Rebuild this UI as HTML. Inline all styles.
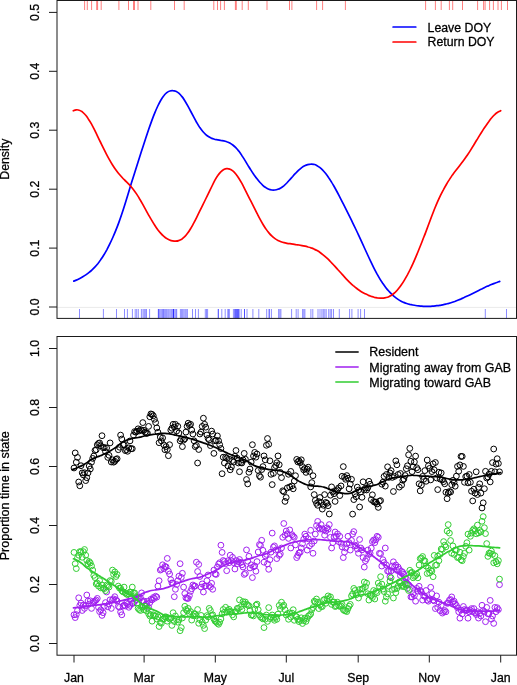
<!DOCTYPE html>
<html lang="en"><head><meta charset="utf-8"><title>Migration timing</title>
<style>text{stroke:#000;stroke-width:0.28px}html,body{margin:0;padding:0;background:#fff}svg{display:block}</style></head>
<body>
<svg width="517" height="685" viewBox="0 0 517 685" font-family="Liberation Sans, Arial, Helvetica, sans-serif" font-size="12.3" fill="#000">
<rect width="517" height="685" fill="#fff"/>
<g id="top">
<line x1="57.0" y1="307.4" x2="516.5" y2="307.4" stroke="#bebebe" stroke-width="0.35"/>
<g stroke="#ff0000" stroke-opacity="0.5" stroke-width="1">
<path d="M84.6 0.5V10M87.3 0.5V10M91.6 0.5V10M96.7 0.5V10M97.6 0.5V10M101.2 0.5V10M118.9 0.5V10M128.5 0.5V10M133.5 0.5V10M134.5 0.5V10M138 0.5V10M150.8 0.5V10M174.5 0.5V10M184.2 0.5V10M213.8 0.5V10M217.5 0.5V10M220.6 0.5V10M224.4 0.5V10M235.4 0.5V10M236.3 0.5V10M242.2 0.5V10M248.3 0.5V10M267 0.5V10M289.5 0.5V10M291.9 0.5V10M316.6 0.5V10M322.6 0.5V10M345.4 0.5V10M425.6 0.5V10M435.4 0.5V10M441.2 0.5V10M449.4 0.5V10M452.7 0.5V10M462.5 0.5V10M477.6 0.5V10M483.6 0.5V10M485.1 0.5V10M489.6 0.5V10M493.4 0.5V10M498 0.5V10M501.4 0.5V10M507.5 0.5V10"/>
</g>
<g stroke="#0000ff" stroke-opacity="0.45" stroke-width="1">
<path d="M79.5 309V318.5M103.4 309V318.5M116.5 309V318.5M124.5 309V318.5M127.4 309V318.5M132.4 309V318.5M135.2 309V318.5M136.7 309V318.5M138.3 309V318.5M141.4 309V318.5M143 309V318.5M144.2 309V318.5M145.3 309V318.5M146.5 309V318.5M149.6 309V318.5M158.4 309V318.5M158.4 309V318.5M159.6 309V318.5M160.8 309V318.5M161.9 309V318.5M163.1 309V318.5M163.1 309V318.5M164.3 309V318.5M165.4 309V318.5M166.6 309V318.5M167.8 309V318.5M168.9 309V318.5M170.1 309V318.5M171.3 309V318.5M172.4 309V318.5M173.5 309V318.5M173.5 309V318.5M173.6 309V318.5M174.8 309V318.5M175.9 309V318.5M176.7 309V318.5M180.4 309V318.5M181.6 309V318.5M182.7 309V318.5M183.9 309V318.5M185.1 309V318.5M186.2 309V318.5M187.4 309V318.5M192.5 309V318.5M195.5 309V318.5M198.4 309V318.5M205.3 309V318.5M206.5 309V318.5M207.6 309V318.5M218.3 309V318.5M218.3 309V318.5M221.8 309V318.5M225.2 309V318.5M228.1 309V318.5M228.1 309V318.5M229.4 309V318.5M233.4 309V318.5M234.6 309V318.5M235.2 309V318.5M235.7 309V318.5M236.4 309V318.5M236.9 309V318.5M237.5 309V318.5M238.1 309V318.5M238.6 309V318.5M239.2 309V318.5M241.2 309V318.5M244.5 309V318.5M244.5 309V318.5M247 309V318.5M252.9 309V318.5M258.8 309V318.5M266.7 309V318.5M269.2 309V318.5M269.2 309V318.5M271.4 309V318.5M278.6 309V318.5M279.8 309V318.5M280.9 309V318.5M291.6 309V318.5M296.2 309V318.5M298.1 309V318.5M302.6 309V318.5M303.8 309V318.5M304.9 309V318.5M310.9 309V318.5M312.8 309V318.5M318 309V318.5M320 309V318.5M321.9 309V318.5M323.3 309V318.5M324.8 309V318.5M326.2 309V318.5M328.7 309V318.5M330.2 309V318.5M331.6 309V318.5M333.5 309V318.5M339.3 309V318.5M349.6 309V318.5M351.9 309V318.5M358.1 309V318.5M360.6 309V318.5M364.5 309V318.5M485.3 309V318.5M506.5 309V318.5"/>
</g>
<path d="M73.8 281.1C74.3 280.9 75.8 280.3 76.8 279.9C77.8 279.4 78.8 278.9 79.8 278.4C80.8 277.9 81.8 277.4 82.8 276.8C83.8 276.2 84.8 275.6 85.8 274.9C86.8 274.2 87.8 273.5 88.8 272.7C89.8 271.9 90.8 271.1 91.8 270.1C92.8 269.2 93.8 268.2 94.8 267.1C95.8 266.1 96.8 264.9 97.8 263.7C98.8 262.4 99.8 261.1 100.8 259.6C101.8 258.2 102.8 256.7 103.8 255C104.8 253.4 105.8 251.6 106.8 249.8C107.8 247.9 108.8 246 109.8 243.9C110.8 241.9 111.8 239.7 112.8 237.5C113.8 235.2 114.8 232.9 115.8 230.4C116.8 227.9 117.8 225.4 118.8 222.6C119.8 219.9 120.8 217.1 121.8 214.1C122.8 211.1 123.8 208 124.8 204.8C125.8 201.6 126.8 198.2 127.8 194.9C128.8 191.6 129.8 188.3 130.8 185C131.8 181.8 132.8 178.5 133.8 175.4C134.8 172.2 135.8 169 136.8 165.9C137.8 162.8 138.8 159.7 139.8 156.5C140.8 153.4 141.8 150.3 142.8 147.2C143.8 144.1 144.8 141 145.8 138C146.8 135 147.8 132 148.8 129.1C149.8 126.2 150.8 123.3 151.8 120.6C152.8 117.9 153.8 115.3 154.8 112.9C155.8 110.4 156.8 108.1 157.8 106C158.8 103.9 159.8 101.9 160.8 100.2C161.8 98.5 162.8 97 163.8 95.8C164.8 94.5 165.8 93.5 166.8 92.7C167.8 91.9 168.8 91.3 169.8 91C170.8 90.6 171.8 90.5 172.8 90.6C173.8 90.6 174.8 90.9 175.8 91.3C176.8 91.8 177.8 92.4 178.8 93.2C179.8 94.1 180.8 95.1 181.8 96.4C182.8 97.6 183.8 99.1 184.8 100.7C185.8 102.3 186.8 104.1 187.8 105.9C188.8 107.7 189.8 109.6 190.8 111.5C191.8 113.4 192.8 115.3 193.8 117.2C194.8 119.1 195.8 121 196.8 122.7C197.8 124.5 198.8 126.1 199.8 127.6C200.8 129 201.8 130.3 202.8 131.5C203.8 132.7 204.8 133.7 205.8 134.6C206.8 135.5 207.8 136.2 208.8 136.8C209.8 137.5 210.8 137.9 211.8 138.4C212.8 138.8 213.8 139 214.8 139.3C215.8 139.5 216.8 139.7 217.8 139.8C218.8 140 219.8 140.1 220.8 140.3C221.8 140.4 222.8 140.6 223.8 140.8C224.8 141 225.8 141.3 226.8 141.7C227.8 142 228.8 142.5 229.8 143C230.8 143.6 231.8 144.2 232.8 145C233.8 145.8 234.8 146.7 235.8 147.7C236.8 148.7 237.8 149.9 238.8 151.1C239.8 152.4 240.8 153.9 241.8 155.4C242.8 156.8 243.8 158.5 244.8 160.1C245.8 161.7 246.8 163.5 247.8 165.1C248.8 166.7 249.8 168.4 250.8 169.9C251.8 171.5 252.8 173 253.8 174.5C254.8 175.9 255.8 177.3 256.8 178.6C257.8 179.9 258.8 181.2 259.8 182.3C260.8 183.4 261.8 184.4 262.8 185.3C263.8 186.2 264.8 187 265.8 187.6C266.8 188.3 267.8 188.8 268.8 189.2C269.8 189.6 270.8 189.8 271.8 190C272.8 190.1 273.8 190.1 274.8 190C275.8 189.9 276.8 189.7 277.8 189.3C278.8 189 279.8 188.5 280.8 187.9C281.8 187.3 282.8 186.6 283.8 185.8C284.8 184.9 285.8 184 286.8 183C287.7 182 288.7 180.9 289.7 179.8C290.7 178.7 291.7 177.6 292.7 176.5C293.7 175.3 294.7 174.2 295.7 173.2C296.7 172.1 297.7 171.1 298.7 170.1C299.7 169.2 300.7 168.4 301.7 167.6C302.7 166.9 303.7 166.3 304.7 165.8C305.7 165.3 306.7 164.9 307.7 164.6C308.7 164.3 309.7 164.1 310.7 164.1C311.7 164 312.7 164.1 313.7 164.3C314.7 164.6 315.7 164.9 316.7 165.4C317.7 166 318.7 166.6 319.7 167.4C320.7 168.2 321.7 169.1 322.7 170.1C323.7 171.1 324.7 172.3 325.7 173.5C326.7 174.8 327.7 176.2 328.7 177.7C329.7 179.1 330.7 180.7 331.7 182.4C332.7 184 333.7 185.8 334.7 187.5C335.7 189.3 336.7 191.2 337.7 193C338.7 194.9 339.7 196.9 340.7 198.8C341.7 200.7 342.7 202.7 343.7 204.7C344.7 206.7 345.7 208.7 346.7 210.7C347.7 212.7 348.7 214.7 349.7 216.7C350.7 218.7 351.7 220.7 352.7 222.8C353.7 224.8 354.7 226.9 355.7 229C356.7 231.1 357.7 233.2 358.7 235.4C359.7 237.5 360.7 239.7 361.7 241.9C362.7 244.1 363.7 246.3 364.7 248.5C365.7 250.6 366.7 252.8 367.7 255C368.7 257.2 369.7 259.3 370.7 261.4C371.7 263.5 372.7 265.6 373.7 267.6C374.7 269.6 375.7 271.5 376.7 273.4C377.7 275.2 378.7 276.9 379.7 278.6C380.7 280.3 381.7 281.8 382.7 283.3C383.7 284.7 384.7 286.1 385.7 287.4C386.7 288.7 387.7 289.9 388.7 291C389.7 292.2 390.7 293.2 391.7 294.2C392.7 295.2 393.7 296.1 394.7 296.9C395.7 297.7 396.7 298.4 397.7 299.1C398.7 299.8 399.7 300.4 400.7 300.9C401.7 301.5 402.7 301.9 403.7 302.4C404.7 302.8 405.7 303.2 406.7 303.5C407.7 303.8 408.7 304.1 409.7 304.4C410.7 304.6 411.7 304.8 412.7 305C413.7 305.2 414.7 305.4 415.7 305.5C416.7 305.7 417.7 305.8 418.7 305.9C419.7 306 420.7 306.1 421.7 306.1C422.7 306.2 423.7 306.3 424.7 306.3C425.7 306.3 426.7 306.3 427.7 306.3C428.7 306.3 429.7 306.3 430.7 306.3C431.7 306.2 432.7 306.2 433.7 306.1C434.7 306 435.7 305.9 436.7 305.7C437.7 305.6 438.7 305.5 439.7 305.3C440.7 305.1 441.7 305 442.7 304.8C443.7 304.6 444.7 304.4 445.7 304.1C446.7 303.9 447.7 303.6 448.7 303.4C449.7 303.1 450.7 302.8 451.7 302.5C452.7 302.2 453.7 301.8 454.7 301.5C455.7 301.1 456.7 300.7 457.7 300.3C458.7 299.9 459.7 299.5 460.7 299.1C461.7 298.6 462.7 298.2 463.7 297.7C464.7 297.3 465.7 296.8 466.7 296.3C467.7 295.9 468.7 295.4 469.7 294.9C470.7 294.4 471.7 293.9 472.7 293.4C473.7 292.9 474.7 292.4 475.7 291.9C476.7 291.4 477.7 290.9 478.7 290.4C479.7 289.9 480.7 289.4 481.7 289C482.7 288.5 483.7 288 484.7 287.5C485.7 287.1 486.7 286.6 487.7 286.1C488.7 285.7 489.7 285.2 490.7 284.8C491.7 284.4 492.7 284 493.7 283.6C494.7 283.2 495.7 282.8 496.7 282.5C497.7 282.1 499.2 281.6 499.7 281.4" fill="none" stroke="#0000ff" stroke-width="1.7" stroke-linecap="round" stroke-linejoin="round"/>
<path d="M73.3 110.8C73.8 110.6 75.3 110 76.3 109.8C77.3 109.7 78.3 109.8 79.3 110.2C80.3 110.5 81.3 111.1 82.3 111.8C83.3 112.6 84.3 113.6 85.3 114.8C86.3 115.9 87.3 117.3 88.3 118.9C89.4 120.4 90.4 122.1 91.4 123.9C92.4 125.7 93.4 127.7 94.4 129.7C95.4 131.7 96.4 133.7 97.4 135.8C98.4 137.9 99.4 140 100.4 142C101.4 144.1 102.4 146.1 103.4 148.2C104.4 150.2 105.4 152.2 106.4 154.1C107.4 156 108.4 157.9 109.4 159.7C110.4 161.5 111.4 163.2 112.4 164.8C113.4 166.4 114.4 167.9 115.4 169.3C116.4 170.7 117.4 172 118.4 173.2C119.5 174.5 120.5 175.6 121.5 176.7C122.5 177.8 123.5 178.9 124.5 179.9C125.5 181 126.5 181.9 127.5 182.9C128.5 183.9 129.5 184.9 130.5 186C131.5 187.2 132.5 188.4 133.5 189.7C134.5 191 135.5 192.4 136.5 193.9C137.5 195.4 138.5 197 139.5 198.7C140.5 200.3 141.5 202.1 142.5 203.9C143.5 205.7 144.5 207.5 145.5 209.3C146.5 211.2 147.5 213 148.5 214.8C149.5 216.6 150.6 218.4 151.6 220.1C152.6 221.8 153.6 223.5 154.6 225C155.6 226.6 156.6 228 157.6 229.4C158.6 230.7 159.6 232 160.6 233.1C161.6 234.2 162.6 235.3 163.6 236.1C164.6 237 165.6 237.8 166.6 238.4C167.6 239.1 168.6 239.6 169.6 240C170.6 240.5 171.6 240.8 172.6 240.9C173.6 241.1 174.6 241.2 175.6 241.2C176.6 241.1 177.6 241 178.6 240.6C179.6 240.3 180.7 239.8 181.7 239.2C182.7 238.5 183.7 237.7 184.7 236.7C185.7 235.7 186.7 234.5 187.7 233.1C188.7 231.8 189.7 230.2 190.7 228.5C191.7 226.9 192.7 225 193.7 223.2C194.7 221.3 195.7 219.3 196.7 217.3C197.7 215.3 198.7 213.3 199.7 211.2C200.7 209.2 201.7 207.2 202.7 205.1C203.7 203.1 204.7 201.1 205.7 199C206.7 197 207.7 195 208.7 192.9C209.7 190.8 210.8 188.6 211.8 186.5C212.8 184.4 213.8 182.3 214.8 180.4C215.8 178.6 216.8 176.9 217.8 175.5C218.8 174 219.8 172.8 220.8 171.8C221.8 170.9 222.8 170.1 223.8 169.5C224.8 169 225.8 168.7 226.8 168.6C227.8 168.5 228.8 168.7 229.8 169.1C230.8 169.4 231.8 170.1 232.8 170.9C233.8 171.7 234.8 172.8 235.8 174C236.8 175.2 237.8 176.6 238.8 178.2C239.8 179.8 240.8 181.5 241.9 183.4C242.9 185.3 243.9 187.3 244.9 189.3C245.9 191.3 246.9 193.3 247.9 195.3C248.9 197.3 249.9 199.3 250.9 201.2C251.9 203.2 252.9 205.2 253.9 207.2C254.9 209.2 255.9 211.2 256.9 213.2C257.9 215.1 258.9 217.1 259.9 218.9C260.9 220.8 261.9 222.6 262.9 224.2C263.9 225.9 264.9 227.5 265.9 228.9C266.9 230.4 267.9 231.7 268.9 232.9C269.9 234.1 270.9 235.2 272 236.1C273 237.1 274 237.9 275 238.6C276 239.3 277 239.9 278 240.4C279 240.9 280 241.3 281 241.7C282 242.1 283 242.4 284 242.6C285 242.9 286 243.1 287 243.3C288 243.5 289 243.6 290 243.7C291 243.9 292 244 293 244.1C294 244.3 295 244.4 296 244.6C297 244.7 298 244.8 299 245C300 245.2 301 245.4 302 245.6C303.1 245.8 304.1 246 305.1 246.2C306.1 246.4 307.1 246.7 308.1 247C309.1 247.2 310.1 247.5 311.1 247.9C312.1 248.2 313.1 248.6 314.1 249.1C315.1 249.5 316.1 250 317.1 250.6C318.1 251.2 319.1 251.8 320.1 252.5C321.1 253.2 322.1 254 323.1 254.8C324.1 255.6 325.1 256.5 326.1 257.4C327.1 258.3 328.1 259.2 329.1 260.2C330.1 261.2 331.1 262.3 332.1 263.3C333.2 264.4 334.2 265.5 335.2 266.6C336.2 267.7 337.2 268.8 338.2 270C339.2 271.1 340.2 272.2 341.2 273.3C342.2 274.4 343.2 275.6 344.2 276.6C345.2 277.7 346.2 278.8 347.2 279.8C348.2 280.8 349.2 281.9 350.2 282.8C351.2 283.8 352.2 284.7 353.2 285.6C354.2 286.4 355.2 287.3 356.2 288C357.2 288.8 358.2 289.5 359.2 290.2C360.2 290.9 361.2 291.6 362.2 292.2C363.2 292.8 364.3 293.3 365.3 293.8C366.3 294.3 367.3 294.8 368.3 295.2C369.3 295.7 370.3 296 371.3 296.4C372.3 296.7 373.3 297 374.3 297.3C375.3 297.5 376.3 297.7 377.3 297.9C378.3 298 379.3 298.1 380.3 298.2C381.3 298.2 382.3 298.2 383.3 298.1C384.3 298 385.3 297.8 386.3 297.5C387.3 297.3 388.3 296.9 389.3 296.4C390.3 296 391.3 295.4 392.3 294.7C393.3 294 394.4 293.1 395.4 292.2C396.4 291.2 397.4 290.1 398.4 288.8C399.4 287.6 400.4 286.3 401.4 284.8C402.4 283.4 403.4 281.8 404.4 280.1C405.4 278.5 406.4 276.7 407.4 274.9C408.4 273 409.4 271.1 410.4 269C411.4 267 412.4 264.8 413.4 262.6C414.4 260.3 415.4 258 416.4 255.6C417.4 253.2 418.4 250.7 419.4 248.3C420.4 245.8 421.4 243.3 422.4 240.7C423.4 238.1 424.5 235.5 425.5 232.9C426.5 230.2 427.5 227.5 428.5 224.8C429.5 222.1 430.5 219.4 431.5 216.7C432.5 214.1 433.5 211.5 434.5 209C435.5 206.6 436.5 204.2 437.5 201.9C438.5 199.7 439.5 197.5 440.5 195.4C441.5 193.4 442.5 191.4 443.5 189.6C444.5 187.7 445.5 185.9 446.5 184.2C447.5 182.5 448.5 180.9 449.5 179.4C450.5 177.8 451.5 176.4 452.5 174.9C453.5 173.5 454.5 172.2 455.6 170.8C456.6 169.5 457.6 168.2 458.6 166.9C459.6 165.6 460.6 164.3 461.6 163C462.6 161.7 463.6 160.4 464.6 159C465.6 157.6 466.6 156.2 467.6 154.7C468.6 153.2 469.6 151.7 470.6 150.1C471.6 148.5 472.6 146.9 473.6 145.3C474.6 143.6 475.6 142 476.6 140.3C477.6 138.7 478.6 137 479.6 135.4C480.6 133.8 481.6 132.2 482.6 130.6C483.6 129 484.6 127.5 485.7 126C486.7 124.5 487.7 123 488.7 121.7C489.7 120.3 490.7 118.9 491.7 117.8C492.7 116.6 493.7 115.5 494.7 114.6C495.7 113.6 496.7 112.8 497.7 112.2C498.7 111.6 500.2 111 500.7 110.7" fill="none" stroke="#ff0000" stroke-width="1.7" stroke-linecap="round" stroke-linejoin="round"/>
<rect x="57.0" y="0.5" width="459.5" height="317.9" fill="none" stroke="#1a1a1a" stroke-width="1"/>
<path d="M49 307H57.0M49 248.1H57.0M49 189.2H57.0M49 130.2H57.0M49 71.3H57.0M49 12.4H57.0" stroke="#1a1a1a" stroke-width="1" fill="none"/>
<text transform="translate(39.2 307) rotate(-90)" text-anchor="middle">0.0</text>
<text transform="translate(39.2 248.1) rotate(-90)" text-anchor="middle">0.1</text>
<text transform="translate(39.2 189.2) rotate(-90)" text-anchor="middle">0.2</text>
<text transform="translate(39.2 130.2) rotate(-90)" text-anchor="middle">0.3</text>
<text transform="translate(39.2 71.3) rotate(-90)" text-anchor="middle">0.4</text>
<text transform="translate(39.2 12.4) rotate(-90)" text-anchor="middle">0.5</text>
<text transform="translate(8.9 159.2) rotate(-90)" text-anchor="middle">Density</text>
<path d="M393.1 27H415.8" stroke="#0000ff" stroke-width="1.7" stroke-linecap="round"/>
<path d="M393.1 42H415.8" stroke="#ff0000" stroke-width="1.7" stroke-linecap="round"/>
<text x="427.6" y="31.6">Leave DOY</text>
<text x="427.6" y="46.4">Return DOY</text>
</g>
<g id="bottom">
<g fill="none" stroke="#000000" stroke-width="1.0"><circle cx="74" cy="468" r="2.9"/><circle cx="75.2" cy="452.9" r="2.9"/><circle cx="76.3" cy="462.2" r="2.9"/><circle cx="77.5" cy="457.4" r="2.9"/><circle cx="78.7" cy="482" r="2.9"/><circle cx="79.8" cy="485.8" r="2.9"/><circle cx="81" cy="465.7" r="2.9"/><circle cx="82.2" cy="472.9" r="2.9"/><circle cx="83.3" cy="474.9" r="2.9"/><circle cx="84.5" cy="472.7" r="2.9"/><circle cx="85.7" cy="480.6" r="2.9"/><circle cx="86.8" cy="477.7" r="2.9"/><circle cx="88" cy="472.9" r="2.9"/><circle cx="89.2" cy="466.1" r="2.9"/><circle cx="90.3" cy="469" r="2.9"/><circle cx="91.5" cy="462.2" r="2.9"/><circle cx="92.7" cy="458.4" r="2.9"/><circle cx="93.8" cy="456" r="2.9"/><circle cx="95" cy="450.4" r="2.9"/><circle cx="96.2" cy="449.7" r="2.9"/><circle cx="97.3" cy="444.8" r="2.9"/><circle cx="98.5" cy="443.4" r="2.9"/><circle cx="99.6" cy="442.9" r="2.9"/><circle cx="100.8" cy="445.8" r="2.9"/><circle cx="102" cy="435.7" r="2.9"/><circle cx="103.1" cy="447.7" r="2.9"/><circle cx="104.3" cy="447.4" r="2.9"/><circle cx="105.5" cy="451.6" r="2.9"/><circle cx="106.6" cy="448" r="2.9"/><circle cx="107.8" cy="457.4" r="2.9"/><circle cx="109" cy="455.3" r="2.9"/><circle cx="110.1" cy="442.9" r="2.9"/><circle cx="111.3" cy="462" r="2.9"/><circle cx="112.5" cy="459.8" r="2.9"/><circle cx="113.6" cy="462.2" r="2.9"/><circle cx="114.8" cy="461.3" r="2.9"/><circle cx="116" cy="459.4" r="2.9"/><circle cx="117.1" cy="458.7" r="2.9"/><circle cx="118.3" cy="449.7" r="2.9"/><circle cx="119.5" cy="447.2" r="2.9"/><circle cx="120.6" cy="435.1" r="2.9"/><circle cx="121.8" cy="439" r="2.9"/><circle cx="123" cy="444.8" r="2.9"/><circle cx="124.1" cy="444.5" r="2.9"/><circle cx="125.3" cy="450.6" r="2.9"/><circle cx="126.5" cy="449.7" r="2.9"/><circle cx="127.6" cy="451.3" r="2.9"/><circle cx="128.8" cy="447.9" r="2.9"/><circle cx="130" cy="440.9" r="2.9"/><circle cx="131.1" cy="448.7" r="2.9"/><circle cx="132.3" cy="448.7" r="2.9"/><circle cx="133.5" cy="435.1" r="2.9"/><circle cx="134.6" cy="431.6" r="2.9"/><circle cx="135.8" cy="432.2" r="2.9"/><circle cx="137" cy="431.3" r="2.9"/><circle cx="138.1" cy="428.8" r="2.9"/><circle cx="139.3" cy="430.9" r="2.9"/><circle cx="140.5" cy="429.5" r="2.9"/><circle cx="141.6" cy="430.3" r="2.9"/><circle cx="142.8" cy="422.6" r="2.9"/><circle cx="143.9" cy="430.3" r="2.9"/><circle cx="145.1" cy="432.2" r="2.9"/><circle cx="146.3" cy="433.2" r="2.9"/><circle cx="147.4" cy="433.2" r="2.9"/><circle cx="148.6" cy="426.4" r="2.9"/><circle cx="149.8" cy="416.8" r="2.9"/><circle cx="150.9" cy="413.9" r="2.9"/><circle cx="152.1" cy="414.4" r="2.9"/><circle cx="153.3" cy="415.8" r="2.9"/><circle cx="154.4" cy="419.3" r="2.9"/><circle cx="155.6" cy="422.6" r="2.9"/><circle cx="156.8" cy="427.9" r="2.9"/><circle cx="157.9" cy="432.2" r="2.9"/><circle cx="159.1" cy="442.7" r="2.9"/><circle cx="160.3" cy="437.1" r="2.9"/><circle cx="161.4" cy="440.9" r="2.9"/><circle cx="162.6" cy="437.9" r="2.9"/><circle cx="163.8" cy="444.8" r="2.9"/><circle cx="164.9" cy="449.7" r="2.9"/><circle cx="166.1" cy="446.6" r="2.9"/><circle cx="167.3" cy="449.5" r="2.9"/><circle cx="168.4" cy="455.7" r="2.9"/><circle cx="169.6" cy="444.7" r="2.9"/><circle cx="170.8" cy="430.1" r="2.9"/><circle cx="171.9" cy="428.2" r="2.9"/><circle cx="173.1" cy="424.3" r="2.9"/><circle cx="174.3" cy="427.1" r="2.9"/><circle cx="175.4" cy="424.3" r="2.9"/><circle cx="176.6" cy="431.1" r="2.9"/><circle cx="177.8" cy="426.3" r="2.9"/><circle cx="178.9" cy="433" r="2.9"/><circle cx="180.1" cy="440.8" r="2.9"/><circle cx="181.3" cy="439.1" r="2.9"/><circle cx="182.4" cy="446.6" r="2.9"/><circle cx="183.6" cy="440.1" r="2.9"/><circle cx="184.8" cy="438.8" r="2.9"/><circle cx="185.9" cy="432.1" r="2.9"/><circle cx="187.1" cy="426.3" r="2.9"/><circle cx="188.2" cy="423.2" r="2.9"/><circle cx="189.4" cy="425.3" r="2.9"/><circle cx="190.6" cy="424.3" r="2.9"/><circle cx="191.7" cy="430.1" r="2.9"/><circle cx="192.9" cy="434" r="2.9"/><circle cx="194.1" cy="440.8" r="2.9"/><circle cx="195.2" cy="446.6" r="2.9"/><circle cx="196.4" cy="445.4" r="2.9"/><circle cx="197.6" cy="463" r="2.9"/><circle cx="198.7" cy="449.5" r="2.9"/><circle cx="199.9" cy="434" r="2.9"/><circle cx="201.1" cy="432.1" r="2.9"/><circle cx="202.2" cy="426.4" r="2.9"/><circle cx="203.4" cy="418.2" r="2.9"/><circle cx="204.6" cy="424.3" r="2.9"/><circle cx="205.7" cy="427.2" r="2.9"/><circle cx="206.9" cy="435" r="2.9"/><circle cx="208.1" cy="438.5" r="2.9"/><circle cx="209.2" cy="439.8" r="2.9"/><circle cx="210.4" cy="445.6" r="2.9"/><circle cx="211.6" cy="431.1" r="2.9"/><circle cx="212.7" cy="434" r="2.9"/><circle cx="213.9" cy="453.4" r="2.9"/><circle cx="215.1" cy="440.8" r="2.9"/><circle cx="216.2" cy="440.3" r="2.9"/><circle cx="217.4" cy="435.9" r="2.9"/><circle cx="218.6" cy="440.8" r="2.9"/><circle cx="219.7" cy="444.7" r="2.9"/><circle cx="220.9" cy="448.5" r="2.9"/><circle cx="222.1" cy="473.7" r="2.9"/><circle cx="223.2" cy="457.2" r="2.9"/><circle cx="224.4" cy="463" r="2.9"/><circle cx="225.6" cy="457.2" r="2.9"/><circle cx="226.7" cy="458.2" r="2.9"/><circle cx="227.9" cy="465.9" r="2.9"/><circle cx="229.1" cy="459.2" r="2.9"/><circle cx="230.2" cy="469.8" r="2.9"/><circle cx="231.4" cy="466.9" r="2.9"/><circle cx="232.5" cy="460.5" r="2.9"/><circle cx="233.7" cy="462.1" r="2.9"/><circle cx="234.9" cy="456.3" r="2.9"/><circle cx="236" cy="450.5" r="2.9"/><circle cx="237.2" cy="458.2" r="2.9"/><circle cx="238.4" cy="463" r="2.9"/><circle cx="239.5" cy="471.7" r="2.9"/><circle cx="240.7" cy="462.7" r="2.9"/><circle cx="241.9" cy="463" r="2.9"/><circle cx="243" cy="459.9" r="2.9"/><circle cx="244.2" cy="453.4" r="2.9"/><circle cx="245.4" cy="459.2" r="2.9"/><circle cx="246.5" cy="479.5" r="2.9"/><circle cx="247.7" cy="483.9" r="2.9"/><circle cx="248.9" cy="472.3" r="2.9"/><circle cx="250" cy="469" r="2.9"/><circle cx="251.2" cy="462.1" r="2.9"/><circle cx="252.4" cy="444.7" r="2.9"/><circle cx="253.5" cy="456" r="2.9"/><circle cx="254.7" cy="452.4" r="2.9"/><circle cx="255.9" cy="457.2" r="2.9"/><circle cx="257" cy="454" r="2.9"/><circle cx="258.2" cy="470.5" r="2.9"/><circle cx="259.4" cy="475.7" r="2.9"/><circle cx="260.5" cy="477.2" r="2.9"/><circle cx="261.7" cy="469.6" r="2.9"/><circle cx="262.9" cy="466.6" r="2.9"/><circle cx="264" cy="455.9" r="2.9"/><circle cx="265.2" cy="459.8" r="2.9"/><circle cx="266.4" cy="445.3" r="2.9"/><circle cx="267.5" cy="438.5" r="2.9"/><circle cx="268.7" cy="444.3" r="2.9"/><circle cx="269.9" cy="460.8" r="2.9"/><circle cx="271" cy="474.3" r="2.9"/><circle cx="272.2" cy="484.6" r="2.9"/><circle cx="273.4" cy="473.4" r="2.9"/><circle cx="274.5" cy="467.6" r="2.9"/><circle cx="275.7" cy="465.6" r="2.9"/><circle cx="276.8" cy="462.7" r="2.9"/><circle cx="278" cy="455.9" r="2.9"/><circle cx="279.2" cy="464.7" r="2.9"/><circle cx="280.3" cy="472.4" r="2.9"/><circle cx="281.5" cy="477.6" r="2.9"/><circle cx="282.7" cy="490.8" r="2.9"/><circle cx="283.8" cy="491.7" r="2.9"/><circle cx="285" cy="501.4" r="2.9"/><circle cx="286.2" cy="497.5" r="2.9"/><circle cx="287.3" cy="487.9" r="2.9"/><circle cx="288.5" cy="474.3" r="2.9"/><circle cx="289.7" cy="486.9" r="2.9"/><circle cx="290.8" cy="471.4" r="2.9"/><circle cx="292" cy="485.9" r="2.9"/><circle cx="293.2" cy="488.8" r="2.9"/><circle cx="294.3" cy="481.1" r="2.9"/><circle cx="295.5" cy="475.7" r="2.9"/><circle cx="296.7" cy="459.4" r="2.9"/><circle cx="297.8" cy="461.9" r="2.9"/><circle cx="299" cy="460.8" r="2.9"/><circle cx="300.2" cy="462.7" r="2.9"/><circle cx="301.3" cy="459.8" r="2.9"/><circle cx="302.5" cy="466.6" r="2.9"/><circle cx="303.7" cy="469.8" r="2.9"/><circle cx="304.8" cy="468.5" r="2.9"/><circle cx="306" cy="472.4" r="2.9"/><circle cx="307.2" cy="469.1" r="2.9"/><circle cx="308.3" cy="467.2" r="2.9"/><circle cx="309.5" cy="471.4" r="2.9"/><circle cx="310.7" cy="486.9" r="2.9"/><circle cx="311.8" cy="482.6" r="2.9"/><circle cx="313" cy="475.7" r="2.9"/><circle cx="314.2" cy="494.6" r="2.9"/><circle cx="315.3" cy="500.4" r="2.9"/><circle cx="316.5" cy="503.3" r="2.9"/><circle cx="317.7" cy="505.3" r="2.9"/><circle cx="318.8" cy="501.6" r="2.9"/><circle cx="320" cy="497.5" r="2.9"/><circle cx="321.1" cy="502.4" r="2.9"/><circle cx="322.3" cy="509.1" r="2.9"/><circle cx="323.5" cy="505.3" r="2.9"/><circle cx="324.6" cy="494.6" r="2.9"/><circle cx="325.8" cy="502.4" r="2.9"/><circle cx="327" cy="503.3" r="2.9"/><circle cx="328.1" cy="505.7" r="2.9"/><circle cx="329.3" cy="514" r="2.9"/><circle cx="330.5" cy="495.2" r="2.9"/><circle cx="331.6" cy="486.9" r="2.9"/><circle cx="332.8" cy="491.7" r="2.9"/><circle cx="334" cy="493.7" r="2.9"/><circle cx="335.1" cy="501.4" r="2.9"/><circle cx="336.3" cy="491.2" r="2.9"/><circle cx="337.5" cy="489.8" r="2.9"/><circle cx="338.6" cy="487.9" r="2.9"/><circle cx="339.8" cy="495.6" r="2.9"/><circle cx="341" cy="485.9" r="2.9"/><circle cx="342.1" cy="476.3" r="2.9"/><circle cx="343.3" cy="466.6" r="2.9"/><circle cx="344.5" cy="477.2" r="2.9"/><circle cx="345.6" cy="479.3" r="2.9"/><circle cx="346.8" cy="475.6" r="2.9"/><circle cx="348" cy="478.2" r="2.9"/><circle cx="349.1" cy="488.8" r="2.9"/><circle cx="350.3" cy="484" r="2.9"/><circle cx="351.5" cy="479.3" r="2.9"/><circle cx="352.6" cy="514.1" r="2.9"/><circle cx="353.8" cy="499.6" r="2.9"/><circle cx="355" cy="493.8" r="2.9"/><circle cx="356.1" cy="496.7" r="2.9"/><circle cx="357.3" cy="487.1" r="2.9"/><circle cx="358.5" cy="490.1" r="2.9"/><circle cx="359.6" cy="507" r="2.9"/><circle cx="360.8" cy="491.9" r="2.9"/><circle cx="362" cy="497.3" r="2.9"/><circle cx="363.1" cy="481.8" r="2.9"/><circle cx="364.3" cy="490" r="2.9"/><circle cx="365.4" cy="488" r="2.9"/><circle cx="366.6" cy="490" r="2.9"/><circle cx="367.8" cy="487.7" r="2.9"/><circle cx="368.9" cy="481.3" r="2.9"/><circle cx="370.1" cy="484.2" r="2.9"/><circle cx="371.3" cy="499.6" r="2.9"/><circle cx="372.4" cy="494.8" r="2.9"/><circle cx="373.6" cy="501.6" r="2.9"/><circle cx="374.8" cy="502.2" r="2.9"/><circle cx="375.9" cy="502" r="2.9"/><circle cx="377.1" cy="504" r="2.9"/><circle cx="378.3" cy="507.4" r="2.9"/><circle cx="379.4" cy="501.2" r="2.9"/><circle cx="380.6" cy="500.6" r="2.9"/><circle cx="381.8" cy="484.2" r="2.9"/><circle cx="382.9" cy="482.2" r="2.9"/><circle cx="384.1" cy="476.4" r="2.9"/><circle cx="385.3" cy="486.1" r="2.9"/><circle cx="386.4" cy="474.5" r="2.9"/><circle cx="387.6" cy="466.8" r="2.9"/><circle cx="388.8" cy="477.4" r="2.9"/><circle cx="389.9" cy="472.9" r="2.9"/><circle cx="391.1" cy="470.6" r="2.9"/><circle cx="392.3" cy="477.4" r="2.9"/><circle cx="393.4" cy="491.5" r="2.9"/><circle cx="394.6" cy="476.4" r="2.9"/><circle cx="395.8" cy="460.9" r="2.9"/><circle cx="396.9" cy="464.8" r="2.9"/><circle cx="398.1" cy="474.5" r="2.9"/><circle cx="399.3" cy="487.1" r="2.9"/><circle cx="400.4" cy="473.5" r="2.9"/><circle cx="401.6" cy="485.1" r="2.9"/><circle cx="402.8" cy="480.3" r="2.9"/><circle cx="403.9" cy="479" r="2.9"/><circle cx="405.1" cy="475.5" r="2.9"/><circle cx="406.3" cy="468.7" r="2.9"/><circle cx="407.4" cy="465.8" r="2.9"/><circle cx="408.6" cy="454.8" r="2.9"/><circle cx="409.8" cy="448.4" r="2.9"/><circle cx="410.9" cy="461.3" r="2.9"/><circle cx="412.1" cy="471.6" r="2.9"/><circle cx="413.2" cy="466.8" r="2.9"/><circle cx="414.4" cy="461.9" r="2.9"/><circle cx="415.6" cy="456.1" r="2.9"/><circle cx="416.7" cy="467.7" r="2.9"/><circle cx="417.9" cy="469.7" r="2.9"/><circle cx="419.1" cy="483.8" r="2.9"/><circle cx="420.2" cy="490.9" r="2.9"/><circle cx="421.4" cy="485.1" r="2.9"/><circle cx="422.6" cy="476.4" r="2.9"/><circle cx="423.7" cy="479.3" r="2.9"/><circle cx="424.9" cy="470.6" r="2.9"/><circle cx="426.1" cy="481.3" r="2.9"/><circle cx="427.2" cy="460" r="2.9"/><circle cx="428.4" cy="465.8" r="2.9"/><circle cx="429.6" cy="468.4" r="2.9"/><circle cx="430.7" cy="479.9" r="2.9"/><circle cx="431.9" cy="471.6" r="2.9"/><circle cx="433.1" cy="463.8" r="2.9"/><circle cx="434.2" cy="469.8" r="2.9"/><circle cx="435.4" cy="462.5" r="2.9"/><circle cx="436.6" cy="478" r="2.9"/><circle cx="437.7" cy="489.6" r="2.9"/><circle cx="438.9" cy="472.2" r="2.9"/><circle cx="440.1" cy="479.1" r="2.9"/><circle cx="441.2" cy="472.9" r="2.9"/><circle cx="442.4" cy="479.9" r="2.9"/><circle cx="443.6" cy="481.7" r="2.9"/><circle cx="444.7" cy="483.8" r="2.9"/><circle cx="445.9" cy="492.3" r="2.9"/><circle cx="447.1" cy="498.7" r="2.9"/><circle cx="448.2" cy="493.1" r="2.9"/><circle cx="449.4" cy="491.5" r="2.9"/><circle cx="450.6" cy="492" r="2.9"/><circle cx="451.7" cy="484.8" r="2.9"/><circle cx="452.9" cy="480.3" r="2.9"/><circle cx="454.1" cy="482.3" r="2.9"/><circle cx="455.2" cy="486.2" r="2.9"/><circle cx="456.4" cy="476.1" r="2.9"/><circle cx="457.5" cy="466.4" r="2.9"/><circle cx="458.7" cy="471.3" r="2.9"/><circle cx="459.9" cy="464.9" r="2.9"/><circle cx="461" cy="456.4" r="2.9"/><circle cx="462.2" cy="456.4" r="2.9"/><circle cx="463.4" cy="466.4" r="2.9"/><circle cx="464.5" cy="482.3" r="2.9"/><circle cx="465.7" cy="476.6" r="2.9"/><circle cx="466.9" cy="476.1" r="2.9"/><circle cx="468" cy="482.9" r="2.9"/><circle cx="469.2" cy="474.5" r="2.9"/><circle cx="470.4" cy="482.3" r="2.9"/><circle cx="471.5" cy="491.2" r="2.9"/><circle cx="472.7" cy="500.9" r="2.9"/><circle cx="473.9" cy="489.2" r="2.9"/><circle cx="475" cy="493.1" r="2.9"/><circle cx="476.2" cy="471.8" r="2.9"/><circle cx="477.4" cy="494.5" r="2.9"/><circle cx="478.5" cy="487.3" r="2.9"/><circle cx="479.7" cy="483.8" r="2.9"/><circle cx="480.9" cy="493.1" r="2.9"/><circle cx="482" cy="508" r="2.9"/><circle cx="483.2" cy="502.8" r="2.9"/><circle cx="484.4" cy="488.7" r="2.9"/><circle cx="485.5" cy="471.3" r="2.9"/><circle cx="486.7" cy="478" r="2.9"/><circle cx="487.9" cy="477" r="2.9"/><circle cx="489" cy="474.2" r="2.9"/><circle cx="490.2" cy="481.9" r="2.9"/><circle cx="491.4" cy="471.3" r="2.9"/><circle cx="492.5" cy="462.6" r="2.9"/><circle cx="493.7" cy="449" r="2.9"/><circle cx="494.9" cy="471.8" r="2.9"/><circle cx="496" cy="464.1" r="2.9"/><circle cx="497.2" cy="458.7" r="2.9"/><circle cx="498.4" cy="463.5" r="2.9"/><circle cx="499.5" cy="471.8" r="2.9"/></g>
<path d="M72.4 469.6C72.9 469.4 74.4 468.9 75.4 468.6C76.4 468.2 77.4 467.8 78.4 467.3C79.4 466.9 80.4 466.4 81.4 465.9C82.4 465.4 83.4 464.9 84.4 464.3C85.4 463.7 86.4 463.1 87.4 462.4C88.4 461.7 89.4 460.7 90.4 460.1C91.4 459.4 92.4 458.9 93.4 458.4C94.4 458 95.4 457.6 96.4 457.2C97.4 456.8 98.4 456.5 99.4 456.1C100.4 455.7 101.4 455.4 102.3 454.9C103.3 454.5 104.3 454 105.3 453.5C106.3 453 107.3 452.5 108.3 451.9C109.3 451.4 110.3 450.9 111.3 450.3C112.3 449.7 113.3 449.1 114.3 448.4C115.3 447.7 116.3 447 117.3 446.2C118.3 445.4 119.3 444.5 120.3 443.8C121.3 443 122.3 442.4 123.3 441.8C124.3 441.3 125.3 440.8 126.3 440.4C127.3 440 128.3 439.7 129.3 439.4C130.3 439.1 131.3 438.8 132.3 438.5C133.3 438.3 134.3 438.1 135.3 437.9C136.3 437.8 137.3 437.7 138.3 437.5C139.3 437.3 140.3 437 141.3 436.8C142.3 436.6 143.3 436.3 144.3 436C145.3 435.8 146.3 435.5 147.3 435.3C148.3 435.1 149.3 435 150.3 434.8C151.3 434.7 152.2 434.6 153.2 434.4C154.2 434.3 155.2 434.2 156.2 434C157.2 433.9 158.2 433.7 159.2 433.6C160.2 433.5 161.2 433.3 162.2 433.3C163.2 433.2 164.2 433.3 165.2 433.3C166.2 433.4 167.2 433.5 168.2 433.7C169.2 433.8 170.2 434 171.2 434.2C172.2 434.4 173.2 434.6 174.2 434.8C175.2 435 176.2 435.3 177.2 435.5C178.2 435.7 179.2 435.9 180.2 436.1C181.2 436.4 182.2 436.6 183.2 436.8C184.2 437 185.2 437.3 186.2 437.5C187.2 437.8 188.2 438 189.2 438.3C190.2 438.6 191.2 438.9 192.2 439.2C193.2 439.5 194.2 439.9 195.2 440.2C196.2 440.5 197.2 440.9 198.2 441.2C199.2 441.5 200.2 441.9 201.2 442.2C202.2 442.5 203.1 442.8 204.1 443.2C205.1 443.5 206.1 443.8 207.1 444.2C208.1 444.6 209.1 444.9 210.1 445.3C211.1 445.7 212.1 446.1 213.1 446.5C214.1 446.9 215.1 447.3 216.1 447.7C217.1 448.1 218.1 448.6 219.1 449C220.1 449.5 221.1 450 222.1 450.5C223.1 451 224.1 451.6 225.1 452.1C226.1 452.6 227.1 453.1 228.1 453.5C229.1 454 230.1 454.4 231.1 454.8C232.1 455.2 233.1 455.5 234.1 455.9C235.1 456.3 236.1 456.7 237.1 457.1C238.1 457.5 239.1 457.9 240.1 458.3C241.1 458.6 242.1 458.9 243.1 459.3C244.1 459.7 245.1 460.1 246.1 460.6C247.1 461.2 248.1 461.7 249.1 462.3C250.1 462.9 251.1 463.7 252.1 464.3C253 464.9 254 465.5 255 465.9C256 466.4 257 466.7 258 466.9C259 467.2 260 467.4 261 467.6C262 467.8 263 468.1 264 468.3C265 468.6 266 468.9 267 469.1C268 469.3 269 469.6 270 469.7C271 469.9 272 470 273 470.1C274 470.1 275 470.1 276 470.2C277 470.3 278 470.4 279 470.6C280 470.8 281 471 282 471.3C283 471.6 284 472 285 472.4C286 472.9 287 473.4 288 473.9C289 474.5 290 475.1 291 475.8C292 476.5 293 477.2 294 477.9C295 478.6 296 479.3 297 480C298 480.6 299 481.3 300 481.8C301 482.4 302 482.9 303 483.3C303.9 483.8 304.9 484.2 305.9 484.5C306.9 484.9 307.9 485.2 308.9 485.4C309.9 485.6 310.9 485.8 311.9 485.9C312.9 486 313.9 486 314.9 486.1C315.9 486.1 316.9 486.1 317.9 486.2C318.9 486.3 319.9 486.3 320.9 486.5C321.9 486.7 322.9 486.9 323.9 487.2C324.9 487.5 325.9 487.9 326.9 488.2C327.9 488.6 328.9 489.1 329.9 489.5C330.9 489.9 331.9 490.3 332.9 490.6C333.9 491 334.9 491.3 335.9 491.6C336.9 491.9 337.9 492.2 338.9 492.5C339.9 492.7 340.9 492.9 341.9 493.1C342.9 493.3 343.9 493.5 344.9 493.6C345.9 493.7 346.9 493.7 347.9 493.6C348.9 493.5 349.9 493.4 350.9 493.1C351.9 492.8 352.9 492.4 353.8 491.9C354.8 491.5 355.8 490.9 356.8 490.4C357.8 489.9 358.8 489.4 359.8 488.9C360.8 488.5 361.8 488.1 362.8 487.7C363.8 487.4 364.8 487.1 365.8 486.9C366.8 486.6 367.8 486.5 368.8 486.3C369.8 486.2 370.8 486 371.8 485.9C372.8 485.7 373.8 485.5 374.8 485.2C375.8 484.9 376.8 484.6 377.8 484.2C378.8 483.8 379.8 483.3 380.8 482.8C381.8 482.3 382.8 481.8 383.8 481.3C384.8 480.8 385.8 480.3 386.8 479.8C387.8 479.4 388.8 479 389.8 478.7C390.8 478.4 391.8 478.1 392.8 477.9C393.8 477.7 394.8 477.6 395.8 477.5C396.8 477.3 397.8 477.3 398.8 477.1C399.8 477 400.8 476.9 401.8 476.7C402.8 476.6 403.8 476.3 404.7 476.2C405.7 476 406.7 475.7 407.7 475.6C408.7 475.4 409.7 475.3 410.7 475.3C411.7 475.2 412.7 475.2 413.7 475.3C414.7 475.3 415.7 475.4 416.7 475.5C417.7 475.6 418.7 475.7 419.7 475.8C420.7 475.9 421.7 476 422.7 476C423.7 476.1 424.7 476.1 425.7 476.1C426.7 476.1 427.7 476.1 428.7 476.2C429.7 476.2 430.7 476.2 431.7 476.3C432.7 476.3 433.7 476.4 434.7 476.5C435.7 476.6 436.7 476.6 437.7 476.8C438.7 476.9 439.7 477 440.7 477.2C441.7 477.4 442.7 477.6 443.7 477.9C444.7 478.1 445.7 478.3 446.7 478.5C447.7 478.8 448.7 479 449.7 479.2C450.7 479.4 451.7 479.5 452.7 479.6C453.7 479.8 454.7 479.8 455.6 479.9C456.6 479.9 457.6 479.9 458.6 479.9C459.6 479.9 460.6 479.8 461.6 479.8C462.6 479.7 463.6 479.6 464.6 479.5C465.6 479.4 466.6 479.3 467.6 479.2C468.6 479 469.6 478.9 470.6 478.7C471.6 478.5 472.6 478.2 473.6 478C474.6 477.8 475.6 477.6 476.6 477.4C477.6 477.1 478.6 476.9 479.6 476.7C480.6 476.5 481.6 476.3 482.6 476C483.6 475.8 484.6 475.6 485.6 475.4C486.6 475.2 487.6 475 488.6 474.8C489.6 474.6 490.6 474.5 491.6 474.3C492.6 474.1 493.6 474 494.6 473.8C495.6 473.6 496.6 473.5 497.6 473.3C498.6 473.1 500.1 472.7 500.6 472.6" fill="none" stroke="#000000" stroke-width="1.75" stroke-linecap="round" stroke-linejoin="round"/>
<g fill="none" stroke="#a020f0" stroke-width="1.0"><circle cx="74" cy="614.8" r="2.9"/><circle cx="75.2" cy="617.6" r="2.9"/><circle cx="76.3" cy="614.6" r="2.9"/><circle cx="77.5" cy="610.5" r="2.9"/><circle cx="78.7" cy="597.8" r="2.9"/><circle cx="79.8" cy="605.5" r="2.9"/><circle cx="81" cy="603.1" r="2.9"/><circle cx="82.2" cy="610.5" r="2.9"/><circle cx="83.3" cy="605.1" r="2.9"/><circle cx="84.5" cy="608.4" r="2.9"/><circle cx="85.7" cy="605.7" r="2.9"/><circle cx="86.8" cy="595" r="2.9"/><circle cx="88" cy="601" r="2.9"/><circle cx="89.2" cy="604.1" r="2.9"/><circle cx="90.3" cy="600.8" r="2.9"/><circle cx="91.5" cy="608.4" r="2.9"/><circle cx="92.7" cy="603.1" r="2.9"/><circle cx="93.8" cy="601.8" r="2.9"/><circle cx="95" cy="601" r="2.9"/><circle cx="96.2" cy="600" r="2.9"/><circle cx="97.3" cy="598.4" r="2.9"/><circle cx="98.5" cy="607.3" r="2.9"/><circle cx="99.6" cy="611.6" r="2.9"/><circle cx="100.8" cy="609.8" r="2.9"/><circle cx="102" cy="615.4" r="2.9"/><circle cx="103.1" cy="612.7" r="2.9"/><circle cx="104.3" cy="606.3" r="2.9"/><circle cx="105.5" cy="602.6" r="2.9"/><circle cx="106.6" cy="592" r="2.9"/><circle cx="107.8" cy="606.8" r="2.9"/><circle cx="109" cy="604.1" r="2.9"/><circle cx="110.1" cy="599.8" r="2.9"/><circle cx="111.3" cy="608.4" r="2.9"/><circle cx="112.5" cy="599.9" r="2.9"/><circle cx="113.6" cy="598.9" r="2.9"/><circle cx="114.8" cy="596.7" r="2.9"/><circle cx="116" cy="599.8" r="2.9"/><circle cx="117.1" cy="601" r="2.9"/><circle cx="118.3" cy="606.4" r="2.9"/><circle cx="119.5" cy="607.3" r="2.9"/><circle cx="120.6" cy="612" r="2.9"/><circle cx="121.8" cy="614.8" r="2.9"/><circle cx="123" cy="606.1" r="2.9"/><circle cx="124.1" cy="605.2" r="2.9"/><circle cx="125.3" cy="606" r="2.9"/><circle cx="126.5" cy="603.1" r="2.9"/><circle cx="127.6" cy="604.4" r="2.9"/><circle cx="128.8" cy="607.3" r="2.9"/><circle cx="130" cy="605.4" r="2.9"/><circle cx="131.1" cy="598.8" r="2.9"/><circle cx="132.3" cy="603.4" r="2.9"/><circle cx="133.5" cy="603.1" r="2.9"/><circle cx="134.6" cy="601.5" r="2.9"/><circle cx="135.8" cy="599.9" r="2.9"/><circle cx="137" cy="597.5" r="2.9"/><circle cx="138.1" cy="597.8" r="2.9"/><circle cx="139.3" cy="598.3" r="2.9"/><circle cx="140.5" cy="598" r="2.9"/><circle cx="141.6" cy="592.9" r="2.9"/><circle cx="142.8" cy="601.7" r="2.9"/><circle cx="143.9" cy="601" r="2.9"/><circle cx="145.1" cy="605.3" r="2.9"/><circle cx="146.3" cy="604.1" r="2.9"/><circle cx="147.4" cy="601.3" r="2.9"/><circle cx="148.6" cy="607.3" r="2.9"/><circle cx="149.8" cy="602.7" r="2.9"/><circle cx="150.9" cy="599.3" r="2.9"/><circle cx="152.1" cy="599.9" r="2.9"/><circle cx="153.3" cy="597.5" r="2.9"/><circle cx="154.4" cy="598.4" r="2.9"/><circle cx="155.6" cy="596.2" r="2.9"/><circle cx="156.8" cy="597.1" r="2.9"/><circle cx="157.9" cy="586.1" r="2.9"/><circle cx="159.1" cy="580.7" r="2.9"/><circle cx="160.3" cy="570.1" r="2.9"/><circle cx="161.4" cy="569.3" r="2.9"/><circle cx="162.6" cy="564.8" r="2.9"/><circle cx="163.8" cy="568.6" r="2.9"/><circle cx="164.9" cy="566.4" r="2.9"/><circle cx="166.1" cy="566.9" r="2.9"/><circle cx="167.3" cy="558.4" r="2.9"/><circle cx="168.4" cy="571.2" r="2.9"/><circle cx="169.6" cy="574" r="2.9"/><circle cx="170.8" cy="579.7" r="2.9"/><circle cx="171.9" cy="582.9" r="2.9"/><circle cx="173.1" cy="583.1" r="2.9"/><circle cx="174.3" cy="596.7" r="2.9"/><circle cx="175.4" cy="589.3" r="2.9"/><circle cx="176.6" cy="584.5" r="2.9"/><circle cx="177.8" cy="580.7" r="2.9"/><circle cx="178.9" cy="576.2" r="2.9"/><circle cx="180.1" cy="563.7" r="2.9"/><circle cx="181.3" cy="577.4" r="2.9"/><circle cx="182.4" cy="573.3" r="2.9"/><circle cx="183.6" cy="587.1" r="2.9"/><circle cx="184.8" cy="593.5" r="2.9"/><circle cx="185.9" cy="597.8" r="2.9"/><circle cx="187.1" cy="598.4" r="2.9"/><circle cx="188.2" cy="598.4" r="2.9"/><circle cx="189.4" cy="595.7" r="2.9"/><circle cx="190.6" cy="591.4" r="2.9"/><circle cx="191.7" cy="588.8" r="2.9"/><circle cx="192.9" cy="585" r="2.9"/><circle cx="194.1" cy="586.2" r="2.9"/><circle cx="195.2" cy="586.1" r="2.9"/><circle cx="196.4" cy="562.2" r="2.9"/><circle cx="197.6" cy="571.5" r="2.9"/><circle cx="198.7" cy="564.4" r="2.9"/><circle cx="199.9" cy="576.5" r="2.9"/><circle cx="201.1" cy="587.1" r="2.9"/><circle cx="202.2" cy="583.9" r="2.9"/><circle cx="203.4" cy="592" r="2.9"/><circle cx="204.6" cy="586.1" r="2.9"/><circle cx="205.7" cy="585.8" r="2.9"/><circle cx="206.9" cy="580.7" r="2.9"/><circle cx="208.1" cy="575" r="2.9"/><circle cx="209.2" cy="585.6" r="2.9"/><circle cx="210.4" cy="587.1" r="2.9"/><circle cx="211.6" cy="583.3" r="2.9"/><circle cx="212.7" cy="589.3" r="2.9"/><circle cx="213.9" cy="570.1" r="2.9"/><circle cx="215.1" cy="574" r="2.9"/><circle cx="216.2" cy="574.4" r="2.9"/><circle cx="217.4" cy="566.9" r="2.9"/><circle cx="218.6" cy="564.1" r="2.9"/><circle cx="219.7" cy="562.7" r="2.9"/><circle cx="220.9" cy="545.2" r="2.9"/><circle cx="222.1" cy="552.4" r="2.9"/><circle cx="223.2" cy="560.5" r="2.9"/><circle cx="224.4" cy="561.5" r="2.9"/><circle cx="225.6" cy="563.7" r="2.9"/><circle cx="226.7" cy="570.7" r="2.9"/><circle cx="227.9" cy="560.8" r="2.9"/><circle cx="229.1" cy="562.7" r="2.9"/><circle cx="230.2" cy="555.2" r="2.9"/><circle cx="231.4" cy="560.8" r="2.9"/><circle cx="232.5" cy="557.3" r="2.9"/><circle cx="233.7" cy="562.7" r="2.9"/><circle cx="234.9" cy="569" r="2.9"/><circle cx="236" cy="560.6" r="2.9"/><circle cx="237.2" cy="563.7" r="2.9"/><circle cx="238.4" cy="561.7" r="2.9"/><circle cx="239.5" cy="559.5" r="2.9"/><circle cx="240.7" cy="562.5" r="2.9"/><circle cx="241.9" cy="564.8" r="2.9"/><circle cx="243" cy="567" r="2.9"/><circle cx="244.2" cy="574.4" r="2.9"/><circle cx="245.4" cy="573.3" r="2.9"/><circle cx="246.5" cy="549.9" r="2.9"/><circle cx="247.7" cy="561.2" r="2.9"/><circle cx="248.9" cy="556.3" r="2.9"/><circle cx="250" cy="568" r="2.9"/><circle cx="251.2" cy="564.8" r="2.9"/><circle cx="252.4" cy="577.6" r="2.9"/><circle cx="253.5" cy="566.9" r="2.9"/><circle cx="254.7" cy="566" r="2.9"/><circle cx="255.9" cy="571.2" r="2.9"/><circle cx="257" cy="561.6" r="2.9"/><circle cx="258.2" cy="552" r="2.9"/><circle cx="259.4" cy="544.6" r="2.9"/><circle cx="260.5" cy="545.4" r="2.9"/><circle cx="261.7" cy="540.3" r="2.9"/><circle cx="262.9" cy="550.3" r="2.9"/><circle cx="264" cy="562.2" r="2.9"/><circle cx="265.2" cy="555.9" r="2.9"/><circle cx="266.4" cy="554.4" r="2.9"/><circle cx="267.5" cy="563.9" r="2.9"/><circle cx="268.7" cy="569.3" r="2.9"/><circle cx="269.9" cy="559.7" r="2.9"/><circle cx="271" cy="552.2" r="2.9"/><circle cx="272.2" cy="533.1" r="2.9"/><circle cx="273.4" cy="547.2" r="2.9"/><circle cx="274.5" cy="545.9" r="2.9"/><circle cx="275.7" cy="550.1" r="2.9"/><circle cx="276.8" cy="558.6" r="2.9"/><circle cx="278" cy="549.9" r="2.9"/><circle cx="279.2" cy="555.4" r="2.9"/><circle cx="280.3" cy="553.9" r="2.9"/><circle cx="281.5" cy="548" r="2.9"/><circle cx="282.7" cy="537.3" r="2.9"/><circle cx="283.8" cy="523.5" r="2.9"/><circle cx="285" cy="535.2" r="2.9"/><circle cx="286.2" cy="531" r="2.9"/><circle cx="287.3" cy="533.8" r="2.9"/><circle cx="288.5" cy="538.4" r="2.9"/><circle cx="289.7" cy="529.9" r="2.9"/><circle cx="290.8" cy="548" r="2.9"/><circle cx="292" cy="534.7" r="2.9"/><circle cx="293.2" cy="536.3" r="2.9"/><circle cx="294.3" cy="537.3" r="2.9"/><circle cx="295.5" cy="544.9" r="2.9"/><circle cx="296.7" cy="557.6" r="2.9"/><circle cx="297.8" cy="555.4" r="2.9"/><circle cx="299" cy="552.9" r="2.9"/><circle cx="300.2" cy="552.2" r="2.9"/><circle cx="301.3" cy="548" r="2.9"/><circle cx="302.5" cy="543.7" r="2.9"/><circle cx="303.7" cy="539.2" r="2.9"/><circle cx="304.8" cy="534.1" r="2.9"/><circle cx="306" cy="536.3" r="2.9"/><circle cx="307.2" cy="550.1" r="2.9"/><circle cx="308.3" cy="538.8" r="2.9"/><circle cx="309.5" cy="545.9" r="2.9"/><circle cx="310.7" cy="530.3" r="2.9"/><circle cx="311.8" cy="543.7" r="2.9"/><circle cx="313" cy="553.3" r="2.9"/><circle cx="314.2" cy="541" r="2.9"/><circle cx="315.3" cy="534.1" r="2.9"/><circle cx="316.5" cy="525.6" r="2.9"/><circle cx="317.7" cy="521.4" r="2.9"/><circle cx="318.8" cy="527.8" r="2.9"/><circle cx="320" cy="529.1" r="2.9"/><circle cx="321.1" cy="524.6" r="2.9"/><circle cx="322.3" cy="528.8" r="2.9"/><circle cx="323.5" cy="529.7" r="2.9"/><circle cx="324.6" cy="535.2" r="2.9"/><circle cx="325.8" cy="531" r="2.9"/><circle cx="327" cy="527.8" r="2.9"/><circle cx="328.1" cy="529.3" r="2.9"/><circle cx="329.3" cy="524.6" r="2.9"/><circle cx="330.5" cy="537.3" r="2.9"/><circle cx="331.6" cy="548" r="2.9"/><circle cx="332.8" cy="542.7" r="2.9"/><circle cx="334" cy="537" r="2.9"/><circle cx="335.1" cy="532" r="2.9"/><circle cx="336.3" cy="536.3" r="2.9"/><circle cx="337.5" cy="533.9" r="2.9"/><circle cx="338.6" cy="541.6" r="2.9"/><circle cx="339.8" cy="536.3" r="2.9"/><circle cx="341" cy="543.3" r="2.9"/><circle cx="342.1" cy="546.9" r="2.9"/><circle cx="343.3" cy="557.6" r="2.9"/><circle cx="344.5" cy="552.2" r="2.9"/><circle cx="345.6" cy="548" r="2.9"/><circle cx="346.8" cy="543.9" r="2.9"/><circle cx="348" cy="536.3" r="2.9"/><circle cx="349.1" cy="542.7" r="2.9"/><circle cx="350.3" cy="550.1" r="2.9"/><circle cx="351.5" cy="540.4" r="2.9"/><circle cx="352.6" cy="534.1" r="2.9"/><circle cx="353.8" cy="531.6" r="2.9"/><circle cx="355" cy="545.9" r="2.9"/><circle cx="356.1" cy="545.4" r="2.9"/><circle cx="357.3" cy="549" r="2.9"/><circle cx="358.5" cy="553.3" r="2.9"/><circle cx="359.6" cy="539.5" r="2.9"/><circle cx="360.8" cy="548" r="2.9"/><circle cx="362" cy="549.9" r="2.9"/><circle cx="363.1" cy="557.6" r="2.9"/><circle cx="364.3" cy="567.1" r="2.9"/><circle cx="365.4" cy="560.8" r="2.9"/><circle cx="366.6" cy="558.6" r="2.9"/><circle cx="367.8" cy="550.1" r="2.9"/><circle cx="368.9" cy="554.4" r="2.9"/><circle cx="370.1" cy="553.3" r="2.9"/><circle cx="371.3" cy="548.1" r="2.9"/><circle cx="372.4" cy="541.6" r="2.9"/><circle cx="373.6" cy="540" r="2.9"/><circle cx="374.8" cy="542.7" r="2.9"/><circle cx="375.9" cy="539.7" r="2.9"/><circle cx="377.1" cy="536.3" r="2.9"/><circle cx="378.3" cy="537.3" r="2.9"/><circle cx="379.4" cy="553.3" r="2.9"/><circle cx="380.6" cy="553.7" r="2.9"/><circle cx="381.8" cy="566.1" r="2.9"/><circle cx="382.9" cy="559.7" r="2.9"/><circle cx="384.1" cy="562.5" r="2.9"/><circle cx="385.3" cy="548" r="2.9"/><circle cx="386.4" cy="565" r="2.9"/><circle cx="387.6" cy="571.1" r="2.9"/><circle cx="388.8" cy="571.4" r="2.9"/><circle cx="389.9" cy="576.7" r="2.9"/><circle cx="391.1" cy="570.9" r="2.9"/><circle cx="392.3" cy="566.1" r="2.9"/><circle cx="393.4" cy="561.8" r="2.9"/><circle cx="394.6" cy="566.7" r="2.9"/><circle cx="395.8" cy="565" r="2.9"/><circle cx="396.9" cy="570.3" r="2.9"/><circle cx="398.1" cy="567.1" r="2.9"/><circle cx="399.3" cy="569.4" r="2.9"/><circle cx="400.4" cy="575.6" r="2.9"/><circle cx="401.6" cy="571.4" r="2.9"/><circle cx="402.8" cy="572.4" r="2.9"/><circle cx="403.9" cy="574.3" r="2.9"/><circle cx="405.1" cy="577.8" r="2.9"/><circle cx="406.3" cy="578.8" r="2.9"/><circle cx="407.4" cy="584.1" r="2.9"/><circle cx="408.6" cy="584.8" r="2.9"/><circle cx="409.8" cy="589.5" r="2.9"/><circle cx="410.9" cy="596.9" r="2.9"/><circle cx="412.1" cy="597" r="2.9"/><circle cx="413.2" cy="593.7" r="2.9"/><circle cx="414.4" cy="595.5" r="2.9"/><circle cx="415.6" cy="601.2" r="2.9"/><circle cx="416.7" cy="588.4" r="2.9"/><circle cx="417.9" cy="591.1" r="2.9"/><circle cx="419.1" cy="586.3" r="2.9"/><circle cx="420.2" cy="590.5" r="2.9"/><circle cx="421.4" cy="592.2" r="2.9"/><circle cx="422.6" cy="600.1" r="2.9"/><circle cx="423.7" cy="595.9" r="2.9"/><circle cx="424.9" cy="596.3" r="2.9"/><circle cx="426.1" cy="590.5" r="2.9"/><circle cx="427.2" cy="600.1" r="2.9"/><circle cx="428.4" cy="601.2" r="2.9"/><circle cx="429.6" cy="598.8" r="2.9"/><circle cx="430.7" cy="587.3" r="2.9"/><circle cx="431.9" cy="593.7" r="2.9"/><circle cx="433.1" cy="600.1" r="2.9"/><circle cx="434.2" cy="600.9" r="2.9"/><circle cx="435.4" cy="608.6" r="2.9"/><circle cx="436.6" cy="595.9" r="2.9"/><circle cx="437.7" cy="607.5" r="2.9"/><circle cx="438.9" cy="602.2" r="2.9"/><circle cx="440.1" cy="610.7" r="2.9"/><circle cx="441.2" cy="605.4" r="2.9"/><circle cx="442.4" cy="613.1" r="2.9"/><circle cx="443.6" cy="611.8" r="2.9"/><circle cx="444.7" cy="610.5" r="2.9"/><circle cx="445.9" cy="611.8" r="2.9"/><circle cx="447.1" cy="603.3" r="2.9"/><circle cx="448.2" cy="603.1" r="2.9"/><circle cx="449.4" cy="600.1" r="2.9"/><circle cx="450.6" cy="599.5" r="2.9"/><circle cx="451.7" cy="596.9" r="2.9"/><circle cx="452.9" cy="602.2" r="2.9"/><circle cx="454.1" cy="601.2" r="2.9"/><circle cx="455.2" cy="603.9" r="2.9"/><circle cx="456.4" cy="605.4" r="2.9"/><circle cx="457.5" cy="607.8" r="2.9"/><circle cx="458.7" cy="611.8" r="2.9"/><circle cx="459.9" cy="618.2" r="2.9"/><circle cx="461" cy="610" r="2.9"/><circle cx="462.2" cy="613.9" r="2.9"/><circle cx="463.4" cy="606.5" r="2.9"/><circle cx="464.5" cy="609.5" r="2.9"/><circle cx="465.7" cy="610.7" r="2.9"/><circle cx="466.9" cy="610" r="2.9"/><circle cx="468" cy="618.2" r="2.9"/><circle cx="469.2" cy="611.8" r="2.9"/><circle cx="470.4" cy="610.4" r="2.9"/><circle cx="471.5" cy="608.6" r="2.9"/><circle cx="472.7" cy="611.8" r="2.9"/><circle cx="473.9" cy="608.6" r="2.9"/><circle cx="475" cy="612.9" r="2.9"/><circle cx="476.2" cy="614.5" r="2.9"/><circle cx="477.4" cy="611.7" r="2.9"/><circle cx="478.5" cy="618.1" r="2.9"/><circle cx="479.7" cy="613.5" r="2.9"/><circle cx="480.9" cy="616" r="2.9"/><circle cx="482" cy="605.3" r="2.9"/><circle cx="483.2" cy="610.6" r="2.9"/><circle cx="484.4" cy="611.7" r="2.9"/><circle cx="485.5" cy="621.7" r="2.9"/><circle cx="486.7" cy="607.4" r="2.9"/><circle cx="487.9" cy="613.8" r="2.9"/><circle cx="489" cy="613.6" r="2.9"/><circle cx="490.2" cy="600.4" r="2.9"/><circle cx="491.4" cy="619.1" r="2.9"/><circle cx="492.5" cy="616" r="2.9"/><circle cx="493.7" cy="623.4" r="2.9"/><circle cx="494.9" cy="607.4" r="2.9"/><circle cx="496" cy="611.7" r="2.9"/><circle cx="497.2" cy="607.7" r="2.9"/><circle cx="498.4" cy="609.6" r="2.9"/><circle cx="499.5" cy="584.7" r="2.9"/></g>
<path d="M73.5 607.8C74 607.7 75.5 607.6 76.5 607.5C77.5 607.4 78.5 607.3 79.5 607.2C80.5 607.1 81.5 607 82.5 606.8C83.5 606.7 84.5 606.6 85.5 606.4C86.5 606.2 87.5 606.1 88.5 605.9C89.5 605.8 90.5 605.6 91.5 605.5C92.5 605.4 93.5 605.3 94.5 605.2C95.5 605.1 96.5 605.1 97.5 605C98.5 604.8 99.5 604.7 100.5 604.6C101.5 604.5 102.5 604.3 103.5 604.2C104.5 604 105.5 603.8 106.5 603.7C107.5 603.5 108.5 603.4 109.5 603.2C110.5 603 111.5 602.9 112.5 602.7C113.5 602.5 114.5 602.3 115.5 602.1C116.5 601.9 117.5 601.7 118.5 601.5C119.5 601.2 120.5 600.9 121.5 600.7C122.5 600.4 123.5 600.2 124.5 599.9C125.5 599.7 126.5 599.4 127.5 599.2C128.5 599 129.5 598.8 130.5 598.6C131.5 598.3 132.5 598 133.5 597.7C134.5 597.3 135.5 596.9 136.5 596.5C137.5 596 138.5 595.5 139.5 595C140.5 594.5 141.5 594 142.5 593.5C143.5 593.1 144.5 592.7 145.5 592.3C146.5 591.9 147.5 591.6 148.5 591.3C149.5 591 150.5 590.7 151.5 590.5C152.5 590.3 153.5 590.1 154.5 590C155.5 589.8 156.5 589.7 157.5 589.6C158.5 589.5 159.5 589.4 160.5 589.2C161.5 589 162.5 588.8 163.5 588.6C164.5 588.3 165.5 588 166.5 587.7C167.5 587.4 168.5 587 169.5 586.6C170.5 586.2 171.5 585.8 172.5 585.4C173.5 585 174.5 584.5 175.5 584.1C176.5 583.7 177.5 583.3 178.5 582.9C179.5 582.6 180.5 582.3 181.5 581.9C182.5 581.6 183.5 581.3 184.5 580.9C185.5 580.6 186.5 580.2 187.5 579.9C188.5 579.6 189.5 579.3 190.5 579C191.5 578.8 192.5 578.6 193.5 578.4C194.5 578.2 195.5 578.1 196.5 577.9C197.5 577.7 198.5 577.5 199.5 577.3C200.5 577 201.5 576.7 202.5 576.3C203.5 575.9 204.5 575.4 205.5 575C206.5 574.6 207.5 574.2 208.5 573.7C209.5 573.3 210.5 572.9 211.5 572.5C212.5 572 213.5 571.6 214.5 571C215.5 570.5 216.5 569.9 217.5 569.3C218.5 568.8 219.5 568.1 220.5 567.5C221.5 566.9 222.5 566.3 223.5 565.7C224.5 565.2 225.5 564.7 226.5 564.2C227.5 563.8 228.5 563.4 229.5 563C230.5 562.7 231.5 562.4 232.5 562.2C233.5 562 234.5 561.8 235.5 561.6C236.5 561.5 237.5 561.4 238.5 561.2C239.5 561.1 240.5 560.9 241.5 560.7C242.5 560.6 243.5 560.4 244.5 560.2C245.5 559.9 246.5 559.7 247.5 559.4C248.5 559.2 249.5 558.9 250.5 558.6C251.5 558.3 252.5 558 253.5 557.6C254.5 557.3 255.5 556.8 256.5 556.5C257.5 556.1 258.5 555.8 259.5 555.5C260.5 555.3 261.5 555.1 262.5 554.8C263.5 554.5 264.5 554.3 265.5 554C266.5 553.6 267.5 553.2 268.5 552.7C269.5 552.3 270.5 551.6 271.5 551.1C272.5 550.6 273.5 550.1 274.5 549.7C275.5 549.2 276.5 548.8 277.5 548.4C278.5 547.9 279.5 547.5 280.5 547.1C281.5 546.7 282.5 546.3 283.5 545.9C284.5 545.4 285.5 545 286.5 544.6C287.5 544.2 288.5 543.8 289.5 543.4C290.5 543.1 291.5 542.8 292.5 542.5C293.5 542.2 294.5 541.9 295.5 541.7C296.5 541.5 297.5 541.2 298.5 541.1C299.5 540.9 300.5 540.7 301.5 540.5C302.5 540.4 303.5 540.3 304.5 540.2C305.5 540.1 306.5 540 307.5 539.9C308.5 539.8 309.5 539.7 310.5 539.7C311.5 539.6 312.5 539.5 313.5 539.5C314.5 539.5 315.5 539.5 316.5 539.5C317.5 539.5 318.5 539.6 319.5 539.6C320.5 539.7 321.5 539.8 322.5 539.9C323.5 540 324.5 540.1 325.5 540.2C326.5 540.3 327.5 540.4 328.5 540.5C329.5 540.6 330.5 540.7 331.5 540.8C332.5 540.9 333.5 541 334.5 541.1C335.5 541.2 336.5 541.2 337.5 541.3C338.5 541.4 339.5 541.4 340.5 541.5C341.5 541.6 342.5 541.6 343.5 541.7C344.5 541.7 345.5 541.6 346.5 541.7C347.5 541.7 348.5 541.9 349.5 542.1C350.5 542.4 351.5 542.8 352.5 543.3C353.5 543.7 354.5 544.4 355.5 545C356.5 545.6 357.5 546.2 358.5 546.9C359.5 547.5 360.5 548.2 361.5 548.8C362.5 549.5 363.5 550.2 364.5 550.8C365.5 551.5 366.5 552.1 367.5 552.7C368.5 553.4 369.5 553.9 370.5 554.6C371.5 555.2 372.5 555.8 373.5 556.5C374.5 557.2 375.5 558 376.5 558.7C377.5 559.5 378.5 560.3 379.5 561.1C380.5 561.8 381.5 562.5 382.5 563.2C383.5 563.9 384.5 564.5 385.5 565.1C386.5 565.7 387.5 566.3 388.5 566.9C389.5 567.6 390.5 568.2 391.5 568.9C392.5 569.5 393.5 570.2 394.5 570.9C395.5 571.6 396.5 572.3 397.5 573C398.5 573.8 399.5 574.5 400.5 575.3C401.5 576.1 402.5 576.9 403.5 577.7C404.5 578.5 405.5 579.3 406.5 580.1C407.5 581 408.5 581.8 409.5 582.7C410.5 583.6 411.5 584.5 412.5 585.4C413.5 586.3 414.5 587.1 415.5 588C416.5 588.8 417.5 589.6 418.5 590.4C419.5 591.2 420.5 592 421.5 592.7C422.5 593.4 423.5 594.1 424.5 594.8C425.5 595.4 426.5 595.9 427.5 596.5C428.5 597 429.5 597.5 430.5 597.9C431.5 598.4 432.5 598.8 433.5 599.2C434.5 599.7 435.5 600 436.5 600.4C437.5 600.8 438.5 601.1 439.5 601.5C440.5 601.8 441.5 602.2 442.5 602.6C443.5 603 444.5 603.3 445.5 603.7C446.5 604.1 447.5 604.4 448.5 604.8C449.5 605.2 450.5 605.6 451.5 606.1C452.5 606.5 453.5 607 454.5 607.5C455.5 607.9 456.5 608.4 457.5 608.7C458.5 609.1 459.5 609.4 460.5 609.6C461.5 609.9 462.5 610 463.5 610.2C464.5 610.4 465.5 610.5 466.5 610.6C467.5 610.8 468.6 610.8 469.6 610.9C470.6 611 471.6 611 472.6 611C473.6 611 474.6 611.1 475.6 611.1C476.6 611.1 477.6 611.1 478.6 611.1C479.6 611.1 480.6 611.1 481.6 611.1C482.6 611.1 483.6 611.1 484.6 611.1C485.6 611.1 486.6 611.1 487.6 611.1C488.6 611.1 489.6 611.1 490.6 611.1C491.6 611.1 492.6 611 493.6 611C494.6 611 495.6 610.9 496.6 610.9C497.6 610.8 499.1 610.7 499.6 610.6" fill="none" stroke="#a020f0" stroke-width="1.75" stroke-linecap="round" stroke-linejoin="round"/>
<g fill="none" stroke="#32cd32" stroke-width="1.0"><circle cx="74" cy="552.4" r="2.9"/><circle cx="75.2" cy="563.7" r="2.9"/><circle cx="76.3" cy="568.6" r="2.9"/><circle cx="77.5" cy="557.8" r="2.9"/><circle cx="78.7" cy="555.2" r="2.9"/><circle cx="79.8" cy="551.6" r="2.9"/><circle cx="81" cy="551.8" r="2.9"/><circle cx="82.2" cy="557.3" r="2.9"/><circle cx="83.3" cy="551.6" r="2.9"/><circle cx="84.5" cy="549.5" r="2.9"/><circle cx="85.7" cy="555.2" r="2.9"/><circle cx="86.8" cy="560.5" r="2.9"/><circle cx="88" cy="563.7" r="2.9"/><circle cx="89.2" cy="561.6" r="2.9"/><circle cx="90.3" cy="563" r="2.9"/><circle cx="91.5" cy="565.9" r="2.9"/><circle cx="92.7" cy="570.1" r="2.9"/><circle cx="93.8" cy="575.4" r="2.9"/><circle cx="95" cy="577.6" r="2.9"/><circle cx="96.2" cy="583.9" r="2.9"/><circle cx="97.3" cy="583.1" r="2.9"/><circle cx="98.5" cy="586.1" r="2.9"/><circle cx="99.6" cy="580.7" r="2.9"/><circle cx="100.8" cy="587.9" r="2.9"/><circle cx="102" cy="585" r="2.9"/><circle cx="103.1" cy="588.2" r="2.9"/><circle cx="104.3" cy="588.6" r="2.9"/><circle cx="105.5" cy="590.7" r="2.9"/><circle cx="106.6" cy="585" r="2.9"/><circle cx="107.8" cy="585.9" r="2.9"/><circle cx="109" cy="587.1" r="2.9"/><circle cx="110.1" cy="580.6" r="2.9"/><circle cx="111.3" cy="581.5" r="2.9"/><circle cx="112.5" cy="570.1" r="2.9"/><circle cx="113.6" cy="574.4" r="2.9"/><circle cx="114.8" cy="571.9" r="2.9"/><circle cx="116" cy="576.5" r="2.9"/><circle cx="117.1" cy="574.4" r="2.9"/><circle cx="118.3" cy="586.1" r="2.9"/><circle cx="119.5" cy="588.1" r="2.9"/><circle cx="120.6" cy="588.2" r="2.9"/><circle cx="121.8" cy="590.7" r="2.9"/><circle cx="123" cy="591.9" r="2.9"/><circle cx="124.1" cy="587.1" r="2.9"/><circle cx="125.3" cy="592.9" r="2.9"/><circle cx="126.5" cy="594.1" r="2.9"/><circle cx="127.6" cy="594.6" r="2.9"/><circle cx="128.8" cy="593.9" r="2.9"/><circle cx="130" cy="592" r="2.9"/><circle cx="131.1" cy="592.3" r="2.9"/><circle cx="132.3" cy="587.1" r="2.9"/><circle cx="133.5" cy="592.9" r="2.9"/><circle cx="134.6" cy="592.9" r="2.9"/><circle cx="135.8" cy="596.7" r="2.9"/><circle cx="137" cy="603.1" r="2.9"/><circle cx="138.1" cy="608.4" r="2.9"/><circle cx="139.3" cy="609.6" r="2.9"/><circle cx="140.5" cy="610.5" r="2.9"/><circle cx="141.6" cy="606.9" r="2.9"/><circle cx="142.8" cy="607.3" r="2.9"/><circle cx="143.9" cy="609.7" r="2.9"/><circle cx="145.1" cy="606.3" r="2.9"/><circle cx="146.3" cy="610.7" r="2.9"/><circle cx="147.4" cy="608.4" r="2.9"/><circle cx="148.6" cy="613.7" r="2.9"/><circle cx="149.8" cy="615.9" r="2.9"/><circle cx="150.9" cy="614.7" r="2.9"/><circle cx="152.1" cy="621.2" r="2.9"/><circle cx="153.3" cy="614.8" r="2.9"/><circle cx="154.4" cy="615.8" r="2.9"/><circle cx="155.6" cy="615.9" r="2.9"/><circle cx="156.8" cy="619.1" r="2.9"/><circle cx="157.9" cy="616.9" r="2.9"/><circle cx="159.1" cy="626.5" r="2.9"/><circle cx="160.3" cy="622.5" r="2.9"/><circle cx="161.4" cy="623.3" r="2.9"/><circle cx="162.6" cy="619.2" r="2.9"/><circle cx="163.8" cy="619" r="2.9"/><circle cx="164.9" cy="616.9" r="2.9"/><circle cx="166.1" cy="616.9" r="2.9"/><circle cx="167.3" cy="621.2" r="2.9"/><circle cx="168.4" cy="617.9" r="2.9"/><circle cx="169.6" cy="619" r="2.9"/><circle cx="170.8" cy="618" r="2.9"/><circle cx="171.9" cy="625.4" r="2.9"/><circle cx="173.1" cy="612.7" r="2.9"/><circle cx="174.3" cy="621.5" r="2.9"/><circle cx="175.4" cy="615.9" r="2.9"/><circle cx="176.6" cy="619.8" r="2.9"/><circle cx="177.8" cy="622.2" r="2.9"/><circle cx="178.9" cy="620.1" r="2.9"/><circle cx="180.1" cy="630.7" r="2.9"/><circle cx="181.3" cy="627.6" r="2.9"/><circle cx="182.4" cy="618" r="2.9"/><circle cx="183.6" cy="612.7" r="2.9"/><circle cx="184.8" cy="606.3" r="2.9"/><circle cx="185.9" cy="609.5" r="2.9"/><circle cx="187.1" cy="610.9" r="2.9"/><circle cx="188.2" cy="608.4" r="2.9"/><circle cx="189.4" cy="613.4" r="2.9"/><circle cx="190.6" cy="611.6" r="2.9"/><circle cx="191.7" cy="620.1" r="2.9"/><circle cx="192.9" cy="615.7" r="2.9"/><circle cx="194.1" cy="613.7" r="2.9"/><circle cx="195.2" cy="613.9" r="2.9"/><circle cx="196.4" cy="615.9" r="2.9"/><circle cx="197.6" cy="609.5" r="2.9"/><circle cx="198.7" cy="623.3" r="2.9"/><circle cx="199.9" cy="619.7" r="2.9"/><circle cx="201.1" cy="615.4" r="2.9"/><circle cx="202.2" cy="622.1" r="2.9"/><circle cx="203.4" cy="625.4" r="2.9"/><circle cx="204.6" cy="628.6" r="2.9"/><circle cx="205.7" cy="620.1" r="2.9"/><circle cx="206.9" cy="615.6" r="2.9"/><circle cx="208.1" cy="616.9" r="2.9"/><circle cx="209.2" cy="608.4" r="2.9"/><circle cx="210.4" cy="610.5" r="2.9"/><circle cx="211.6" cy="615.5" r="2.9"/><circle cx="212.7" cy="614.8" r="2.9"/><circle cx="213.9" cy="618.9" r="2.9"/><circle cx="215.1" cy="621.2" r="2.9"/><circle cx="216.2" cy="621.9" r="2.9"/><circle cx="217.4" cy="623.3" r="2.9"/><circle cx="218.6" cy="624.3" r="2.9"/><circle cx="219.7" cy="622.2" r="2.9"/><circle cx="220.9" cy="619" r="2.9"/><circle cx="222.1" cy="613.9" r="2.9"/><circle cx="223.2" cy="609.5" r="2.9"/><circle cx="224.4" cy="612.2" r="2.9"/><circle cx="225.6" cy="607.3" r="2.9"/><circle cx="226.7" cy="612" r="2.9"/><circle cx="227.9" cy="610.5" r="2.9"/><circle cx="229.1" cy="609.3" r="2.9"/><circle cx="230.2" cy="611.6" r="2.9"/><circle cx="231.4" cy="611.7" r="2.9"/><circle cx="232.5" cy="614.8" r="2.9"/><circle cx="233.7" cy="616.9" r="2.9"/><circle cx="234.9" cy="611.9" r="2.9"/><circle cx="236" cy="611.6" r="2.9"/><circle cx="237.2" cy="608.4" r="2.9"/><circle cx="238.4" cy="608.4" r="2.9"/><circle cx="239.5" cy="599.9" r="2.9"/><circle cx="240.7" cy="606.8" r="2.9"/><circle cx="241.9" cy="609.5" r="2.9"/><circle cx="243" cy="601.6" r="2.9"/><circle cx="244.2" cy="604.1" r="2.9"/><circle cx="245.4" cy="602" r="2.9"/><circle cx="246.5" cy="604.2" r="2.9"/><circle cx="247.7" cy="605.2" r="2.9"/><circle cx="248.9" cy="605.7" r="2.9"/><circle cx="250" cy="610.5" r="2.9"/><circle cx="251.2" cy="615.1" r="2.9"/><circle cx="252.4" cy="614.8" r="2.9"/><circle cx="253.5" cy="615.9" r="2.9"/><circle cx="254.7" cy="609.1" r="2.9"/><circle cx="255.9" cy="605.2" r="2.9"/><circle cx="257" cy="604.1" r="2.9"/><circle cx="258.2" cy="609.7" r="2.9"/><circle cx="259.4" cy="614.8" r="2.9"/><circle cx="260.5" cy="616.9" r="2.9"/><circle cx="261.7" cy="618" r="2.9"/><circle cx="262.9" cy="618.9" r="2.9"/><circle cx="264" cy="627.6" r="2.9"/><circle cx="265.2" cy="619.2" r="2.9"/><circle cx="266.4" cy="615" r="2.9"/><circle cx="267.5" cy="621.4" r="2.9"/><circle cx="268.7" cy="607.6" r="2.9"/><circle cx="269.9" cy="618.6" r="2.9"/><circle cx="271" cy="617.1" r="2.9"/><circle cx="272.2" cy="615" r="2.9"/><circle cx="273.4" cy="618.2" r="2.9"/><circle cx="274.5" cy="620.3" r="2.9"/><circle cx="275.7" cy="617.3" r="2.9"/><circle cx="276.8" cy="619.3" r="2.9"/><circle cx="278" cy="614.1" r="2.9"/><circle cx="279.2" cy="605.4" r="2.9"/><circle cx="280.3" cy="608.6" r="2.9"/><circle cx="281.5" cy="602.2" r="2.9"/><circle cx="282.7" cy="606.5" r="2.9"/><circle cx="283.8" cy="605.2" r="2.9"/><circle cx="285" cy="609.7" r="2.9"/><circle cx="286.2" cy="615" r="2.9"/><circle cx="287.3" cy="613.6" r="2.9"/><circle cx="288.5" cy="619.3" r="2.9"/><circle cx="289.7" cy="612.9" r="2.9"/><circle cx="290.8" cy="617.1" r="2.9"/><circle cx="292" cy="613.1" r="2.9"/><circle cx="293.2" cy="609.7" r="2.9"/><circle cx="294.3" cy="620.3" r="2.9"/><circle cx="295.5" cy="616.1" r="2.9"/><circle cx="296.7" cy="616.8" r="2.9"/><circle cx="297.8" cy="619.3" r="2.9"/><circle cx="299" cy="621.6" r="2.9"/><circle cx="300.2" cy="620.3" r="2.9"/><circle cx="301.3" cy="617.8" r="2.9"/><circle cx="302.5" cy="623.5" r="2.9"/><circle cx="303.7" cy="620.7" r="2.9"/><circle cx="304.8" cy="618.2" r="2.9"/><circle cx="306" cy="621.4" r="2.9"/><circle cx="307.2" cy="618.5" r="2.9"/><circle cx="308.3" cy="616.1" r="2.9"/><circle cx="309.5" cy="615.3" r="2.9"/><circle cx="310.7" cy="613.9" r="2.9"/><circle cx="311.8" cy="609.7" r="2.9"/><circle cx="313" cy="607.6" r="2.9"/><circle cx="314.2" cy="601.2" r="2.9"/><circle cx="315.3" cy="601.8" r="2.9"/><circle cx="316.5" cy="599" r="2.9"/><circle cx="317.7" cy="602.2" r="2.9"/><circle cx="318.8" cy="608.6" r="2.9"/><circle cx="320" cy="604.7" r="2.9"/><circle cx="321.1" cy="606.5" r="2.9"/><circle cx="322.3" cy="606.6" r="2.9"/><circle cx="323.5" cy="600.1" r="2.9"/><circle cx="324.6" cy="599.3" r="2.9"/><circle cx="325.8" cy="603.3" r="2.9"/><circle cx="327" cy="598.9" r="2.9"/><circle cx="328.1" cy="595.9" r="2.9"/><circle cx="329.3" cy="598.6" r="2.9"/><circle cx="330.5" cy="596.9" r="2.9"/><circle cx="331.6" cy="604.4" r="2.9"/><circle cx="332.8" cy="602.2" r="2.9"/><circle cx="334" cy="602" r="2.9"/><circle cx="335.1" cy="606.5" r="2.9"/><circle cx="336.3" cy="606" r="2.9"/><circle cx="337.5" cy="602.2" r="2.9"/><circle cx="338.6" cy="605.5" r="2.9"/><circle cx="339.8" cy="606.5" r="2.9"/><circle cx="341" cy="605.8" r="2.9"/><circle cx="342.1" cy="604.4" r="2.9"/><circle cx="343.3" cy="609.7" r="2.9"/><circle cx="344.5" cy="610.7" r="2.9"/><circle cx="345.6" cy="610.7" r="2.9"/><circle cx="346.8" cy="611.6" r="2.9"/><circle cx="348" cy="608.6" r="2.9"/><circle cx="349.1" cy="606.1" r="2.9"/><circle cx="350.3" cy="604.4" r="2.9"/><circle cx="351.5" cy="595.9" r="2.9"/><circle cx="352.6" cy="593.9" r="2.9"/><circle cx="353.8" cy="588.4" r="2.9"/><circle cx="355" cy="590.5" r="2.9"/><circle cx="356.1" cy="594.8" r="2.9"/><circle cx="357.3" cy="592.7" r="2.9"/><circle cx="358.5" cy="598" r="2.9"/><circle cx="359.6" cy="589.5" r="2.9"/><circle cx="360.8" cy="593.7" r="2.9"/><circle cx="362" cy="589" r="2.9"/><circle cx="363.1" cy="588.4" r="2.9"/><circle cx="364.3" cy="582" r="2.9"/><circle cx="365.4" cy="586.9" r="2.9"/><circle cx="366.6" cy="583.1" r="2.9"/><circle cx="367.8" cy="593.7" r="2.9"/><circle cx="368.9" cy="600.1" r="2.9"/><circle cx="370.1" cy="594.5" r="2.9"/><circle cx="371.3" cy="595.9" r="2.9"/><circle cx="372.4" cy="597.6" r="2.9"/><circle cx="373.6" cy="590.5" r="2.9"/><circle cx="374.8" cy="599" r="2.9"/><circle cx="375.9" cy="591.5" r="2.9"/><circle cx="377.1" cy="592.7" r="2.9"/><circle cx="378.3" cy="583.1" r="2.9"/><circle cx="379.4" cy="586.3" r="2.9"/><circle cx="380.6" cy="576.7" r="2.9"/><circle cx="381.8" cy="584.1" r="2.9"/><circle cx="382.9" cy="589.1" r="2.9"/><circle cx="384.1" cy="591.6" r="2.9"/><circle cx="385.3" cy="601.2" r="2.9"/><circle cx="386.4" cy="596.9" r="2.9"/><circle cx="387.6" cy="593.9" r="2.9"/><circle cx="388.8" cy="586.3" r="2.9"/><circle cx="389.9" cy="581" r="2.9"/><circle cx="391.1" cy="577.8" r="2.9"/><circle cx="392.3" cy="589.5" r="2.9"/><circle cx="393.4" cy="598" r="2.9"/><circle cx="394.6" cy="589.1" r="2.9"/><circle cx="395.8" cy="592.7" r="2.9"/><circle cx="396.9" cy="588.4" r="2.9"/><circle cx="398.1" cy="586.1" r="2.9"/><circle cx="399.3" cy="582" r="2.9"/><circle cx="400.4" cy="583.1" r="2.9"/><circle cx="401.6" cy="586.3" r="2.9"/><circle cx="402.8" cy="585.2" r="2.9"/><circle cx="403.9" cy="586.7" r="2.9"/><circle cx="405.1" cy="584.1" r="2.9"/><circle cx="406.3" cy="584.6" r="2.9"/><circle cx="407.4" cy="588.4" r="2.9"/><circle cx="408.6" cy="590.5" r="2.9"/><circle cx="409.8" cy="570.3" r="2.9"/><circle cx="410.9" cy="572.8" r="2.9"/><circle cx="412.1" cy="572.4" r="2.9"/><circle cx="413.2" cy="577.8" r="2.9"/><circle cx="414.4" cy="576.4" r="2.9"/><circle cx="415.6" cy="575.6" r="2.9"/><circle cx="416.7" cy="574.1" r="2.9"/><circle cx="417.9" cy="577.8" r="2.9"/><circle cx="419.1" cy="565" r="2.9"/><circle cx="420.2" cy="558.6" r="2.9"/><circle cx="421.4" cy="558.1" r="2.9"/><circle cx="422.6" cy="556.5" r="2.9"/><circle cx="423.7" cy="560.7" r="2.9"/><circle cx="424.9" cy="560.8" r="2.9"/><circle cx="426.1" cy="566.1" r="2.9"/><circle cx="427.2" cy="573.5" r="2.9"/><circle cx="428.4" cy="568.2" r="2.9"/><circle cx="429.6" cy="572.9" r="2.9"/><circle cx="430.7" cy="570.3" r="2.9"/><circle cx="431.9" cy="571" r="2.9"/><circle cx="433.1" cy="576.7" r="2.9"/><circle cx="434.2" cy="555.4" r="2.9"/><circle cx="435.4" cy="565.3" r="2.9"/><circle cx="436.6" cy="565" r="2.9"/><circle cx="437.7" cy="556" r="2.9"/><circle cx="438.9" cy="560.7" r="2.9"/><circle cx="440.1" cy="554.4" r="2.9"/><circle cx="441.2" cy="549" r="2.9"/><circle cx="442.4" cy="549.3" r="2.9"/><circle cx="443.6" cy="541.6" r="2.9"/><circle cx="444.7" cy="545.2" r="2.9"/><circle cx="445.9" cy="546.9" r="2.9"/><circle cx="447.1" cy="531" r="2.9"/><circle cx="448.2" cy="524.6" r="2.9"/><circle cx="449.4" cy="533.1" r="2.9"/><circle cx="450.6" cy="540.5" r="2.9"/><circle cx="451.7" cy="553.3" r="2.9"/><circle cx="452.9" cy="545.9" r="2.9"/><circle cx="454.1" cy="554.4" r="2.9"/><circle cx="455.2" cy="550.1" r="2.9"/><circle cx="456.4" cy="550.1" r="2.9"/><circle cx="457.5" cy="557.6" r="2.9"/><circle cx="458.7" cy="557.2" r="2.9"/><circle cx="459.9" cy="552.2" r="2.9"/><circle cx="461" cy="559.8" r="2.9"/><circle cx="462.2" cy="560.7" r="2.9"/><circle cx="463.4" cy="556.5" r="2.9"/><circle cx="464.5" cy="553.3" r="2.9"/><circle cx="465.7" cy="546.3" r="2.9"/><circle cx="466.9" cy="542.7" r="2.9"/><circle cx="468" cy="534.1" r="2.9"/><circle cx="469.2" cy="550.1" r="2.9"/><circle cx="470.4" cy="536.3" r="2.9"/><circle cx="471.5" cy="533.1" r="2.9"/><circle cx="472.7" cy="530.3" r="2.9"/><circle cx="473.9" cy="528.8" r="2.9"/><circle cx="475" cy="530.8" r="2.9"/><circle cx="476.2" cy="533.8" r="2.9"/><circle cx="477.4" cy="525.1" r="2.9"/><circle cx="478.5" cy="533" r="2.9"/><circle cx="479.7" cy="530.5" r="2.9"/><circle cx="480.9" cy="531.9" r="2.9"/><circle cx="482" cy="521.3" r="2.9"/><circle cx="483.2" cy="516.6" r="2.9"/><circle cx="484.4" cy="527.7" r="2.9"/><circle cx="485.5" cy="533.6" r="2.9"/><circle cx="486.7" cy="543.6" r="2.9"/><circle cx="487.9" cy="556.4" r="2.9"/><circle cx="489" cy="553.2" r="2.9"/><circle cx="490.2" cy="553.3" r="2.9"/><circle cx="491.4" cy="551.1" r="2.9"/><circle cx="492.5" cy="554.3" r="2.9"/><circle cx="493.7" cy="562.8" r="2.9"/><circle cx="494.9" cy="555.7" r="2.9"/><circle cx="496" cy="561.8" r="2.9"/><circle cx="497.2" cy="563.8" r="2.9"/><circle cx="498.4" cy="560.6" r="2.9"/><circle cx="499.5" cy="579.1" r="2.9"/></g>
<path d="M73.5 558.8C74 559 75.5 559.6 76.5 560.1C77.5 560.6 78.5 561.1 79.5 561.7C80.5 562.4 81.5 563 82.5 563.9C83.5 564.7 84.5 565.8 85.5 566.7C86.5 567.5 87.5 568.2 88.5 568.9C89.5 569.6 90.5 570.3 91.5 571C92.5 571.6 93.5 572.3 94.5 572.9C95.5 573.6 96.5 574.1 97.5 574.7C98.5 575.3 99.5 576 100.5 576.6C101.5 577.3 102.5 577.9 103.5 578.6C104.5 579.2 105.5 579.8 106.5 580.5C107.5 581.1 108.5 581.8 109.5 582.4C110.5 583.1 111.5 583.7 112.5 584.4C113.5 585 114.5 585.6 115.5 586.3C116.5 586.9 117.5 587.6 118.5 588.2C119.5 588.9 120.5 589.6 121.5 590.2C122.5 590.8 123.5 591.4 124.5 592C125.5 592.6 126.5 593.2 127.5 593.8C128.5 594.3 129.5 594.7 130.5 595.3C131.5 595.8 132.5 596.3 133.5 597C134.5 597.7 135.5 598.6 136.5 599.5C137.5 600.3 138.5 601.4 139.5 602.2C140.5 603.1 141.5 604 142.5 604.6C143.5 605.3 144.5 605.9 145.5 606.4C146.5 606.9 147.5 607.3 148.5 607.7C149.5 608.1 150.5 608.6 151.5 609C152.5 609.5 153.5 609.8 154.5 610.2C155.5 610.7 156.5 611.1 157.5 611.6C158.5 612.1 159.5 612.7 160.5 613.3C161.5 613.9 162.5 614.5 163.5 615C164.5 615.5 165.5 615.9 166.5 616.1C167.5 616.3 168.5 616.3 169.5 616.3C170.5 616.4 171.5 616.3 172.5 616.3C173.5 616.3 174.5 616.4 175.5 616.5C176.5 616.5 177.5 616.6 178.5 616.7C179.5 616.8 180.5 616.8 181.5 616.9C182.5 616.9 183.5 617 184.5 617C185.5 617 186.5 616.9 187.5 616.9C188.5 616.9 189.5 616.9 190.5 616.9C191.5 616.9 192.5 616.9 193.5 616.9C194.5 616.9 195.5 616.9 196.5 616.9C197.5 616.9 198.5 616.9 199.5 616.9C200.5 616.9 201.5 617 202.5 617C203.5 617 204.5 617 205.5 617C206.5 617 207.5 616.9 208.5 616.8C209.5 616.7 210.5 616.6 211.5 616.5C212.5 616.4 213.5 616.2 214.5 616.1C215.5 615.9 216.5 615.8 217.5 615.7C218.5 615.5 219.5 615.4 220.5 615.3C221.5 615.1 222.5 615 223.5 614.9C224.5 614.8 225.5 614.7 226.5 614.6C227.5 614.5 228.5 614.5 229.5 614.4C230.5 614.3 231.5 614.3 232.5 614.2C233.5 614.1 234.5 614 235.5 613.9C236.5 613.8 237.5 613.7 238.5 613.6C239.5 613.5 240.5 613.4 241.5 613.3C242.5 613.2 243.5 613.1 244.5 613C245.5 612.9 246.5 612.8 247.5 612.7C248.5 612.7 249.5 612.7 250.5 612.7C251.5 612.7 252.5 612.7 253.5 612.8C254.5 612.8 255.5 612.9 256.5 613.1C257.5 613.2 258.5 613.3 259.5 613.5C260.5 613.7 261.5 613.9 262.5 614.1C263.5 614.3 264.5 614.5 265.5 614.6C266.5 614.7 267.5 614.8 268.5 614.9C269.5 614.9 270.5 614.9 271.5 615C272.5 615 273.5 615 274.5 615C275.5 615.1 276.5 615.1 277.5 615.1C278.5 615.1 279.5 615.1 280.5 615.1C281.5 615 282.5 615 283.5 614.9C284.5 614.8 285.5 614.7 286.5 614.6C287.5 614.4 288.5 614.3 289.5 614.1C290.5 613.9 291.5 613.7 292.5 613.5C293.5 613.3 294.5 613.1 295.5 612.8C296.5 612.6 297.5 612.3 298.5 612C299.5 611.6 300.5 611.3 301.5 610.9C302.5 610.6 303.5 610.1 304.5 609.7C305.5 609.4 306.5 609 307.5 608.6C308.5 608.3 309.5 608 310.5 607.7C311.5 607.4 312.5 607.1 313.5 606.8C314.5 606.5 315.5 606.2 316.5 605.9C317.5 605.6 318.5 605.2 319.5 604.9C320.5 604.5 321.5 604.1 322.5 603.9C323.5 603.6 324.5 603.3 325.5 603.1C326.5 602.9 327.5 602.8 328.5 602.7C329.5 602.6 330.5 602.5 331.5 602.4C332.5 602.3 333.5 602.2 334.5 602.1C335.5 602 336.5 601.9 337.5 601.7C338.5 601.6 339.5 601.5 340.5 601.4C341.5 601.2 342.5 601 343.5 600.8C344.5 600.6 345.5 600.4 346.5 600.1C347.5 599.9 348.5 599.6 349.5 599.2C350.5 598.8 351.5 598.4 352.5 597.8C353.5 597.3 354.5 596.6 355.5 596.1C356.5 595.7 357.5 595.3 358.5 595C359.5 594.8 360.5 594.8 361.5 594.8C362.5 594.7 363.5 594.7 364.5 594.6C365.5 594.5 366.5 594.3 367.5 594C368.5 593.7 369.5 593.2 370.5 592.8C371.5 592.4 372.5 592 373.5 591.6C374.5 591.2 375.5 590.9 376.5 590.5C377.5 590.1 378.5 589.8 379.5 589.4C380.5 589 381.5 588.6 382.5 588.2C383.5 587.7 384.5 587.2 385.5 586.7C386.5 586.2 387.5 585.7 388.5 585.2C389.5 584.7 390.5 584.2 391.5 583.6C392.5 583.1 393.5 582.6 394.5 582.1C395.5 581.6 396.5 581.1 397.5 580.6C398.5 580.1 399.5 579.6 400.5 579.1C401.5 578.6 402.5 578.1 403.5 577.6C404.5 577.1 405.5 576.6 406.5 576.1C407.5 575.7 408.5 575.2 409.5 574.7C410.5 574.2 411.5 573.7 412.5 573.2C413.5 572.7 414.5 572.2 415.5 571.7C416.5 571.1 417.5 570.5 418.5 569.9C419.5 569.3 420.5 568.6 421.5 568C422.5 567.4 423.5 566.7 424.5 566.1C425.5 565.5 426.5 564.8 427.5 564.2C428.5 563.6 429.5 563 430.5 562.3C431.5 561.7 432.5 561.1 433.5 560.5C434.5 559.8 435.5 559.2 436.5 558.6C437.5 557.9 438.5 557.3 439.5 556.7C440.5 556 441.5 555.5 442.5 554.9C443.5 554.3 444.5 553.7 445.5 553.2C446.5 552.6 447.5 552.1 448.5 551.5C449.5 551 450.5 550.5 451.5 549.9C452.5 549.4 453.5 548.8 454.5 548.3C455.5 547.8 456.5 547.4 457.5 547C458.5 546.7 459.5 546.4 460.5 546.2C461.5 546 462.5 546 463.5 545.9C464.5 545.8 465.5 545.8 466.5 545.7C467.5 545.7 468.6 545.6 469.6 545.6C470.6 545.6 471.6 545.6 472.6 545.7C473.6 545.7 474.6 545.7 475.6 545.8C476.6 545.8 477.6 545.9 478.6 545.9C479.6 546 480.6 546.1 481.6 546.2C482.6 546.3 483.6 546.4 484.6 546.5C485.6 546.6 486.6 546.7 487.6 546.8C488.6 546.9 489.6 547 490.6 547.1C491.6 547.2 492.6 547.3 493.6 547.4C494.6 547.5 495.6 547.5 496.6 547.6C497.6 547.7 499.1 547.8 499.6 547.9" fill="none" stroke="#32cd32" stroke-width="1.75" stroke-linecap="round" stroke-linejoin="round"/>
<rect x="57.0" y="336.5" width="459.5" height="318.7" fill="none" stroke="#1a1a1a" stroke-width="1"/>
<path d="M49 643.5H57.0M49 584.5H57.0M49 525.5H57.0M49 466.5H57.0M49 407.5H57.0M49 348.5H57.0" stroke="#1a1a1a" stroke-width="1" fill="none"/>
<text transform="translate(39.2 643.5) rotate(-90)" text-anchor="middle">0.0</text>
<text transform="translate(39.2 584.5) rotate(-90)" text-anchor="middle">0.2</text>
<text transform="translate(39.2 525.5) rotate(-90)" text-anchor="middle">0.4</text>
<text transform="translate(39.2 466.5) rotate(-90)" text-anchor="middle">0.6</text>
<text transform="translate(39.2 407.5) rotate(-90)" text-anchor="middle">0.8</text>
<text transform="translate(39.2 348.5) rotate(-90)" text-anchor="middle">1.0</text>
<text transform="translate(8.9 495.8) rotate(-90)" text-anchor="middle" font-size="12.55">Proportion time in state</text>
<path d="M74 655.2V662.5M144.1 655.2V662.5M215.3 655.2V662.5M286.3 655.2V662.5M358.2 655.2V662.5M429.3 655.2V662.5M500.7 655.2V662.5" stroke="#1a1a1a" stroke-width="1" fill="none"/>
<text x="74" y="682.1" text-anchor="middle">Jan</text>
<text x="144.1" y="682.1" text-anchor="middle">Mar</text>
<text x="215.3" y="682.1" text-anchor="middle">May</text>
<text x="286.3" y="682.1" text-anchor="middle">Jul</text>
<text x="358.2" y="682.1" text-anchor="middle">Sep</text>
<text x="429.3" y="682.1" text-anchor="middle">Nov</text>
<text x="500.7" y="682.1" text-anchor="middle">Jan</text>
<path d="M335.8 352H358.2" stroke="#000" stroke-width="1.4" stroke-linecap="round"/>
<path d="M335.8 367H358.2" stroke="#a020f0" stroke-width="1.4" stroke-linecap="round"/>
<path d="M335.8 382H358.2" stroke="#32cd32" stroke-width="1.4" stroke-linecap="round"/>
<g font-size="12.45">
<text x="369.3" y="356.4">Resident</text>
<text x="369.3" y="371.5">Migrating away from GAB</text>
<text x="369.3" y="386.6">Migrating toward GAB</text>
</g>
</g>
</svg>
</body></html>
